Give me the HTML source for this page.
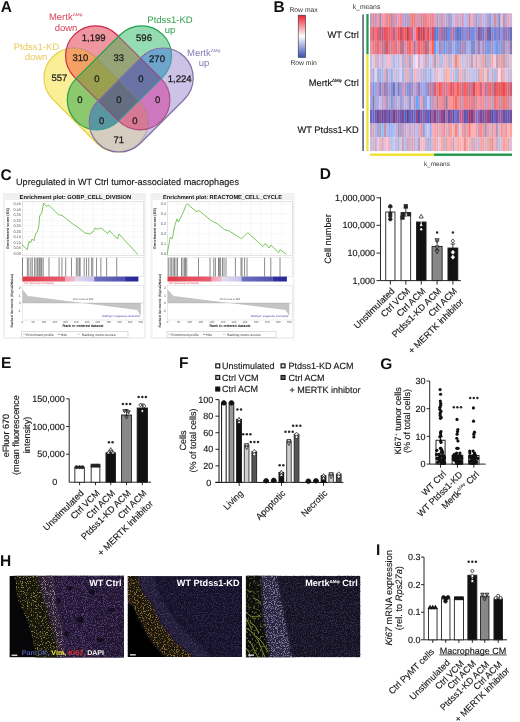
<!DOCTYPE html><html><head><meta charset="utf-8"><style>html,body{margin:0;padding:0;background:#fff;}svg{display:block;}</style></head><body><svg text-rendering="geometricPrecision" width="520" height="722" viewBox="0 0 520 722" font-family='"Liberation Sans", Arial, sans-serif'><rect width="520" height="722" fill="#fff"/><defs><clipPath id="vcY"><rect x="34.89" y="70.00" width="122.23" height="60.00" rx="30" ry="30" transform="rotate(45.00 96.00 100.00)" /></clipPath><mask id="vmY" maskUnits="userSpaceOnUse" x="0" y="0" width="260" height="170"><rect x="0" y="0" width="260" height="170" fill="#fff"/><rect x="34.89" y="70.00" width="122.23" height="60.00" rx="30" ry="30" transform="rotate(45.00 96.00 100.00)" fill="#000"/></mask><clipPath id="vcR"><rect x="56.50" y="47.85" width="122.51" height="60.00" rx="30" ry="30" transform="rotate(44.87 117.75 77.85)" /></clipPath><mask id="vmR" maskUnits="userSpaceOnUse" x="0" y="0" width="260" height="170"><rect x="0" y="0" width="260" height="170" fill="#fff"/><rect x="56.50" y="47.85" width="122.51" height="60.00" rx="30" ry="30" transform="rotate(44.87 117.75 77.85)" fill="#000"/></mask><clipPath id="vcG"><rect x="58.20" y="47.85" width="122.51" height="60.00" rx="30" ry="30" transform="rotate(135.13 119.45 77.85)" /></clipPath><mask id="vmG" maskUnits="userSpaceOnUse" x="0" y="0" width="260" height="170"><rect x="0" y="0" width="260" height="170" fill="#fff"/><rect x="58.20" y="47.85" width="122.51" height="60.00" rx="30" ry="30" transform="rotate(135.13 119.45 77.85)" fill="#000"/></mask><clipPath id="vcP"><rect x="80.09" y="70.00" width="122.23" height="60.00" rx="30" ry="30" transform="rotate(135.00 141.20 100.00)" /></clipPath><mask id="vmP" maskUnits="userSpaceOnUse" x="0" y="0" width="260" height="170"><rect x="0" y="0" width="260" height="170" fill="#fff"/><rect x="80.09" y="70.00" width="122.23" height="60.00" rx="30" ry="30" transform="rotate(135.00 141.20 100.00)" fill="#000"/></mask></defs>
<g mask="url(#vmP)"><g mask="url(#vmG)"><g mask="url(#vmR)"><g clip-path="url(#vcY)"><rect x="0" y="0" width="260" height="170" fill="#faee96"/></g></g></g></g>
<g mask="url(#vmP)"><g mask="url(#vmG)"><g mask="url(#vmY)"><g clip-path="url(#vcR)"><rect x="0" y="0" width="260" height="170" fill="#f096a0"/></g></g></g></g>
<g mask="url(#vmP)"><g mask="url(#vmR)"><g mask="url(#vmY)"><g clip-path="url(#vcG)"><rect x="0" y="0" width="260" height="170" fill="#96dcb2"/></g></g></g></g>
<g mask="url(#vmG)"><g mask="url(#vmR)"><g mask="url(#vmY)"><g clip-path="url(#vcP)"><rect x="0" y="0" width="260" height="170" fill="#cdc3e6"/></g></g></g></g>
<g mask="url(#vmP)"><g mask="url(#vmG)"><g clip-path="url(#vcR)"><g clip-path="url(#vcY)"><rect x="0" y="0" width="260" height="170" fill="#f5a064"/></g></g></g></g>
<g mask="url(#vmP)"><g mask="url(#vmY)"><g clip-path="url(#vcG)"><g clip-path="url(#vcR)"><rect x="0" y="0" width="260" height="170" fill="#96a578"/></g></g></g></g>
<g mask="url(#vmR)"><g mask="url(#vmY)"><g clip-path="url(#vcP)"><g clip-path="url(#vcG)"><rect x="0" y="0" width="260" height="170" fill="#6ea5cd"/></g></g></g></g>
<g mask="url(#vmP)"><g mask="url(#vmR)"><g clip-path="url(#vcG)"><g clip-path="url(#vcY)"><rect x="0" y="0" width="260" height="170" fill="#8cc86e"/></g></g></g></g>
<g mask="url(#vmG)"><g mask="url(#vmY)"><g clip-path="url(#vcP)"><g clip-path="url(#vcR)"><rect x="0" y="0" width="260" height="170" fill="#cd78be"/></g></g></g></g>
<g mask="url(#vmP)"><g clip-path="url(#vcG)"><g clip-path="url(#vcR)"><g clip-path="url(#vcY)"><rect x="0" y="0" width="260" height="170" fill="#9ba050"/></g></g></g></g>
<g mask="url(#vmY)"><g clip-path="url(#vcP)"><g clip-path="url(#vcG)"><g clip-path="url(#vcR)"><rect x="0" y="0" width="260" height="170" fill="#6973a5"/></g></g></g></g>
<g clip-path="url(#vcP)"><g clip-path="url(#vcG)"><g clip-path="url(#vcR)"><g clip-path="url(#vcY)"><rect x="0" y="0" width="260" height="170" fill="#646e82"/></g></g></g></g>
<g mask="url(#vmR)"><g clip-path="url(#vcP)"><g clip-path="url(#vcG)"><g clip-path="url(#vcY)"><rect x="0" y="0" width="260" height="170" fill="#5a96a0"/></g></g></g></g>
<g mask="url(#vmG)"><g clip-path="url(#vcP)"><g clip-path="url(#vcR)"><g clip-path="url(#vcY)"><rect x="0" y="0" width="260" height="170" fill="#d77896"/></g></g></g></g>
<g mask="url(#vmG)"><g mask="url(#vmR)"><g clip-path="url(#vcP)"><g clip-path="url(#vcY)"><rect x="0" y="0" width="260" height="170" fill="#d4cdc0"/></g></g></g></g>
<defs><clipPath id="vuY"><rect x="56.50" y="47.85" width="122.51" height="60.00" rx="30" ry="30" transform="rotate(44.87 117.75 77.85)" /><rect x="58.20" y="47.85" width="122.51" height="60.00" rx="30" ry="30" transform="rotate(135.13 119.45 77.85)" /><rect x="80.09" y="70.00" width="122.23" height="60.00" rx="30" ry="30" transform="rotate(135.00 141.20 100.00)" /></clipPath><mask id="vnY" maskUnits="userSpaceOnUse" x="0" y="0" width="260" height="170"><rect x="0" y="0" width="260" height="170" fill="#fff"/><rect x="56.50" y="47.85" width="122.51" height="60.00" rx="30" ry="30" transform="rotate(44.87 117.75 77.85)" fill="#000"/><rect x="58.20" y="47.85" width="122.51" height="60.00" rx="30" ry="30" transform="rotate(135.13 119.45 77.85)" fill="#000"/><rect x="80.09" y="70.00" width="122.23" height="60.00" rx="30" ry="30" transform="rotate(135.00 141.20 100.00)" fill="#000"/></mask></defs>
<g mask="url(#vnY)"><rect x="34.89" y="70.00" width="122.23" height="60.00" rx="30" ry="30" transform="rotate(45.00 96.00 100.00)" fill="none" stroke="#e6d24a" stroke-width="1.2"/></g>
<g clip-path="url(#vuY)"><rect x="34.89" y="70.00" width="122.23" height="60.00" rx="30" ry="30" transform="rotate(45.00 96.00 100.00)" fill="none" stroke="#6a6a50" stroke-width="1.1" stroke-opacity="0.35"/></g>
<defs><clipPath id="vuR"><rect x="58.20" y="47.85" width="122.51" height="60.00" rx="30" ry="30" transform="rotate(135.13 119.45 77.85)" /><rect x="80.09" y="70.00" width="122.23" height="60.00" rx="30" ry="30" transform="rotate(135.00 141.20 100.00)" /></clipPath><mask id="vnR" maskUnits="userSpaceOnUse" x="0" y="0" width="260" height="170"><rect x="0" y="0" width="260" height="170" fill="#fff"/><rect x="58.20" y="47.85" width="122.51" height="60.00" rx="30" ry="30" transform="rotate(135.13 119.45 77.85)" fill="#000"/><rect x="80.09" y="70.00" width="122.23" height="60.00" rx="30" ry="30" transform="rotate(135.00 141.20 100.00)" fill="#000"/></mask></defs>
<g mask="url(#vnR)"><rect x="56.50" y="47.85" width="122.51" height="60.00" rx="30" ry="30" transform="rotate(44.87 117.75 77.85)" fill="none" stroke="#cc2a4c" stroke-width="1.2"/></g>
<g clip-path="url(#vuR)"><rect x="56.50" y="47.85" width="122.51" height="60.00" rx="30" ry="30" transform="rotate(44.87 117.75 77.85)" fill="none" stroke="#a02862" stroke-width="1.1" stroke-opacity="0.75"/></g>
<defs><clipPath id="vuG"><rect x="80.09" y="70.00" width="122.23" height="60.00" rx="30" ry="30" transform="rotate(135.00 141.20 100.00)" /></clipPath><mask id="vnG" maskUnits="userSpaceOnUse" x="0" y="0" width="260" height="170"><rect x="0" y="0" width="260" height="170" fill="#fff"/><rect x="80.09" y="70.00" width="122.23" height="60.00" rx="30" ry="30" transform="rotate(135.00 141.20 100.00)" fill="#000"/></mask></defs>
<g mask="url(#vnG)"><rect x="58.20" y="47.85" width="122.51" height="60.00" rx="30" ry="30" transform="rotate(135.13 119.45 77.85)" fill="none" stroke="#22a04a" stroke-width="1.2"/></g>
<g clip-path="url(#vuG)"><rect x="58.20" y="47.85" width="122.51" height="60.00" rx="30" ry="30" transform="rotate(135.13 119.45 77.85)" fill="none" stroke="#2a9a90" stroke-width="1.1" stroke-opacity="0.85"/></g>
<rect x="80.09" y="70.00" width="122.23" height="60.00" rx="30" ry="30" transform="rotate(135.00 141.20 100.00)" fill="none" stroke="#8070a8" stroke-width="1.2"/>
<text x="93.6" y="40.9" font-size="9.5" text-anchor="middle" fill="#1a1a1a" font-weight="normal" stroke="#1a1a1a" stroke-width="0.25">1,199</text>
<text x="80.4" y="61.0" font-size="9.5" text-anchor="middle" fill="#1a1a1a" font-weight="normal" stroke="#1a1a1a" stroke-width="0.25">310</text>
<text x="118.7" y="61.0" font-size="9.5" text-anchor="middle" fill="#1a1a1a" font-weight="normal" stroke="#1a1a1a" stroke-width="0.25">33</text>
<text x="59.4" y="81.3" font-size="9.5" text-anchor="middle" fill="#1a1a1a" font-weight="normal" stroke="#1a1a1a" stroke-width="0.25">557</text>
<text x="179.6" y="81.5" font-size="9.5" text-anchor="middle" fill="#1a1a1a" font-weight="normal" stroke="#1a1a1a" stroke-width="0.25">1,224</text>
<text x="144" y="40.8" font-size="9.5" text-anchor="middle" fill="#1a1a1a" font-weight="normal" stroke="#1a1a1a" stroke-width="0.25">596</text>
<text x="157" y="62.0" font-size="9.5" text-anchor="middle" fill="#1a1a1a" font-weight="normal" stroke="#1a1a1a" stroke-width="0.25">270</text>
<text x="96.9" y="82.2" font-size="9.5" text-anchor="middle" fill="#1a1a1a" font-weight="normal" stroke="#1a1a1a" stroke-width="0.25">0</text>
<text x="140.8" y="82.2" font-size="9.5" text-anchor="middle" fill="#1a1a1a" font-weight="normal" stroke="#1a1a1a" stroke-width="0.25">0</text>
<text x="80" y="103.1" font-size="9.5" text-anchor="middle" fill="#1a1a1a" font-weight="normal" stroke="#1a1a1a" stroke-width="0.25">0</text>
<text x="119" y="103.1" font-size="9.5" text-anchor="middle" fill="#1a1a1a" font-weight="normal" stroke="#1a1a1a" stroke-width="0.25">0</text>
<text x="157.7" y="103.1" font-size="9.5" text-anchor="middle" fill="#1a1a1a" font-weight="normal" stroke="#1a1a1a" stroke-width="0.25">0</text>
<text x="101.7" y="123.8" font-size="9.5" text-anchor="middle" fill="#1a1a1a" font-weight="normal" stroke="#1a1a1a" stroke-width="0.25">0</text>
<text x="134.8" y="123.8" font-size="9.5" text-anchor="middle" fill="#1a1a1a" font-weight="normal" stroke="#1a1a1a" stroke-width="0.25">0</text>
<text x="118.7" y="142.5" font-size="9.5" text-anchor="middle" fill="#1a1a1a" font-weight="normal" stroke="#1a1a1a" stroke-width="0.25">71</text>
<text x="65.6" y="20.2" font-size="9.5" text-anchor="middle" fill="#d8405a">Mertk<tspan font-size="4.5" dy="-4">ΔMφ</tspan></text>
<text x="66" y="30.8" font-size="9.5" text-anchor="middle" fill="#d8405a" font-weight="normal" >down</text>
<text x="36.4" y="50.4" font-size="9.5" text-anchor="middle" fill="#ecc85a" font-weight="normal" >Ptdss1-KD</text>
<text x="36" y="60" font-size="9.5" text-anchor="middle" fill="#ecc85a" font-weight="normal" >down</text>
<text x="170" y="23" font-size="9.5" text-anchor="middle" fill="#30a050" font-weight="normal" >Ptdss1-KD</text>
<text x="170" y="33" font-size="9.5" text-anchor="middle" fill="#30a050" font-weight="normal" >up</text>
<text x="203.7" y="55.5" font-size="9.5" text-anchor="middle" fill="#8878b8">Mertk<tspan font-size="4.5" dy="-4">ΔMφ</tspan></text>
<text x="204" y="66" font-size="9.5" text-anchor="middle" fill="#8878b8" font-weight="normal" >up</text>
<text x="0.8" y="11.8" font-size="15.5" text-anchor="start" fill="#111" font-weight="bold" >A</text>
<rect x="370.00" y="13.30" width="2.34" height="13.82" fill="#bf9dc7"/>
<rect x="372.29" y="13.30" width="2.34" height="13.82" fill="#ed838f"/>
<rect x="374.57" y="13.30" width="2.34" height="13.82" fill="#b799c4"/>
<rect x="376.86" y="13.30" width="2.34" height="13.82" fill="#f39aad"/>
<rect x="379.14" y="13.30" width="2.34" height="13.82" fill="#ab89b3"/>
<rect x="381.43" y="13.30" width="2.34" height="13.82" fill="#f191a1"/>
<rect x="383.71" y="13.30" width="2.34" height="13.82" fill="#ff9296"/>
<rect x="386.00" y="13.30" width="2.34" height="13.82" fill="#d48ea8"/>
<rect x="388.29" y="13.30" width="2.34" height="13.82" fill="#ff7b71"/>
<rect x="390.57" y="13.30" width="2.34" height="13.82" fill="#b888ac"/>
<rect x="392.86" y="13.30" width="2.34" height="13.82" fill="#de92a9"/>
<rect x="395.14" y="13.30" width="2.34" height="13.82" fill="#d092b0"/>
<rect x="397.43" y="13.30" width="2.34" height="13.82" fill="#e997ac"/>
<rect x="399.71" y="13.30" width="2.34" height="13.82" fill="#f88b95"/>
<rect x="402.00" y="13.30" width="2.34" height="13.82" fill="#b5a5d7"/>
<rect x="404.29" y="13.30" width="2.34" height="13.82" fill="#b498c5"/>
<rect x="406.57" y="13.30" width="2.34" height="13.82" fill="#b49bc8"/>
<rect x="408.86" y="13.30" width="2.34" height="13.82" fill="#c898bc"/>
<rect x="411.14" y="13.30" width="2.34" height="13.82" fill="#ff7965"/>
<rect x="413.43" y="13.30" width="2.34" height="13.82" fill="#df7b88"/>
<rect x="415.71" y="13.30" width="2.34" height="13.82" fill="#da9ab7"/>
<rect x="418.00" y="13.30" width="2.34" height="13.82" fill="#dc96b0"/>
<rect x="420.29" y="13.30" width="2.34" height="13.82" fill="#d0849b"/>
<rect x="422.57" y="13.30" width="2.34" height="13.82" fill="#de8394"/>
<rect x="424.86" y="13.30" width="2.34" height="13.82" fill="#ff7e7d"/>
<rect x="427.14" y="13.30" width="2.34" height="13.82" fill="#eb8c9b"/>
<rect x="429.43" y="13.30" width="2.34" height="13.82" fill="#ea838f"/>
<rect x="431.71" y="13.30" width="2.34" height="13.82" fill="#f18893"/>
<rect x="434.00" y="13.30" width="2.34" height="13.82" fill="#d9a3c1"/>
<rect x="436.29" y="13.30" width="2.34" height="13.82" fill="#ac9ac7"/>
<rect x="438.59" y="13.30" width="2.34" height="13.82" fill="#cba5c9"/>
<rect x="440.88" y="13.30" width="2.34" height="13.82" fill="#d795ad"/>
<rect x="443.18" y="13.30" width="2.34" height="13.82" fill="#c6a7ce"/>
<rect x="445.47" y="13.30" width="2.34" height="13.82" fill="#bba5d0"/>
<rect x="447.76" y="13.30" width="2.34" height="13.82" fill="#af9cc9"/>
<rect x="450.06" y="13.30" width="2.34" height="13.82" fill="#93a7e4"/>
<rect x="452.35" y="13.30" width="2.34" height="13.82" fill="#d3b3d9"/>
<rect x="454.65" y="13.30" width="2.34" height="13.82" fill="#d7aacc"/>
<rect x="456.94" y="13.30" width="2.34" height="13.82" fill="#cea8cc"/>
<rect x="459.24" y="13.30" width="2.34" height="13.82" fill="#bfacd9"/>
<rect x="461.53" y="13.30" width="2.34" height="13.82" fill="#da94ab"/>
<rect x="463.82" y="13.30" width="2.34" height="13.82" fill="#b7c1f9"/>
<rect x="466.12" y="13.30" width="2.34" height="13.82" fill="#c3aeda"/>
<rect x="468.41" y="13.30" width="2.34" height="13.82" fill="#ba91b4"/>
<rect x="470.71" y="13.30" width="2.34" height="13.82" fill="#ffa9b6"/>
<rect x="473.00" y="13.30" width="2.34" height="13.82" fill="#bfacd9"/>
<rect x="475.29" y="13.30" width="2.34" height="13.82" fill="#aa99c6"/>
<rect x="477.59" y="13.30" width="2.34" height="13.82" fill="#b3aada"/>
<rect x="479.88" y="13.30" width="2.34" height="13.82" fill="#d6a5c5"/>
<rect x="482.18" y="13.30" width="2.34" height="13.82" fill="#c3b4e3"/>
<rect x="484.47" y="13.30" width="2.34" height="13.82" fill="#a8b3ed"/>
<rect x="486.76" y="13.30" width="2.34" height="13.82" fill="#ca99b9"/>
<rect x="489.06" y="13.30" width="2.34" height="13.82" fill="#79a6ee"/>
<rect x="491.35" y="13.30" width="2.34" height="13.82" fill="#bea9d5"/>
<rect x="493.65" y="13.30" width="2.34" height="13.82" fill="#cd8ea7"/>
<rect x="495.94" y="13.30" width="2.34" height="13.82" fill="#b9acdb"/>
<rect x="498.24" y="13.30" width="2.34" height="13.82" fill="#9189ba"/>
<rect x="500.53" y="13.30" width="2.34" height="13.82" fill="#e2bbdf"/>
<rect x="502.82" y="13.30" width="2.34" height="13.82" fill="#c093b4"/>
<rect x="505.12" y="13.30" width="2.34" height="13.82" fill="#aaaadf"/>
<rect x="507.41" y="13.30" width="2.34" height="13.82" fill="#f89ba7"/>
<rect x="509.71" y="13.30" width="2.34" height="13.82" fill="#c7b6e4"/>
<rect x="370.00" y="27.07" width="2.34" height="13.82" fill="#f27288"/>
<rect x="372.29" y="27.07" width="2.34" height="13.82" fill="#c65b78"/>
<rect x="374.57" y="27.07" width="2.34" height="13.82" fill="#ff6872"/>
<rect x="376.86" y="27.07" width="2.34" height="13.82" fill="#f25b66"/>
<rect x="379.14" y="27.07" width="2.34" height="13.82" fill="#a7608d"/>
<rect x="381.43" y="27.07" width="2.34" height="13.82" fill="#c85976"/>
<rect x="383.71" y="27.07" width="2.34" height="13.82" fill="#e8535f"/>
<rect x="386.00" y="27.07" width="2.34" height="13.82" fill="#f25760"/>
<rect x="388.29" y="27.07" width="2.34" height="13.82" fill="#d65f78"/>
<rect x="390.57" y="27.07" width="2.34" height="13.82" fill="#f36371"/>
<rect x="392.86" y="27.07" width="2.34" height="13.82" fill="#cf5c77"/>
<rect x="395.14" y="27.07" width="2.34" height="13.82" fill="#ce789f"/>
<rect x="397.43" y="27.07" width="2.34" height="13.82" fill="#ff4f4f"/>
<rect x="399.71" y="27.07" width="2.34" height="13.82" fill="#c3506b"/>
<rect x="402.00" y="27.07" width="2.34" height="13.82" fill="#e45d6e"/>
<rect x="404.29" y="27.07" width="2.34" height="13.82" fill="#ff4f45"/>
<rect x="406.57" y="27.07" width="2.34" height="13.82" fill="#ac4462"/>
<rect x="408.86" y="27.07" width="2.34" height="13.82" fill="#ff5455"/>
<rect x="411.14" y="27.07" width="2.34" height="13.82" fill="#b76993"/>
<rect x="413.43" y="27.07" width="2.34" height="13.82" fill="#df90bb"/>
<rect x="415.71" y="27.07" width="2.34" height="13.82" fill="#ff5b5f"/>
<rect x="418.00" y="27.07" width="2.34" height="13.82" fill="#bf4359"/>
<rect x="420.29" y="27.07" width="2.34" height="13.82" fill="#c84a5f"/>
<rect x="422.57" y="27.07" width="2.34" height="13.82" fill="#d33e49"/>
<rect x="424.86" y="27.07" width="2.34" height="13.82" fill="#d57091"/>
<rect x="427.14" y="27.07" width="2.34" height="13.82" fill="#f9423f"/>
<rect x="429.43" y="27.07" width="2.34" height="13.82" fill="#c1719a"/>
<rect x="431.71" y="27.07" width="2.34" height="13.82" fill="#e74a52"/>
<rect x="434.00" y="27.07" width="2.34" height="13.82" fill="#6a76ca"/>
<rect x="436.29" y="27.07" width="2.34" height="13.82" fill="#5d7ad4"/>
<rect x="438.59" y="27.07" width="2.34" height="13.82" fill="#ab79b2"/>
<rect x="440.88" y="27.07" width="2.34" height="13.82" fill="#b66a98"/>
<rect x="443.18" y="27.07" width="2.34" height="13.82" fill="#746fbb"/>
<rect x="445.47" y="27.07" width="2.34" height="13.82" fill="#716bb6"/>
<rect x="447.76" y="27.07" width="2.34" height="13.82" fill="#5f8ef1"/>
<rect x="450.06" y="27.07" width="2.34" height="13.82" fill="#b27ab0"/>
<rect x="452.35" y="27.07" width="2.34" height="13.82" fill="#a873ab"/>
<rect x="454.65" y="27.07" width="2.34" height="13.82" fill="#727fd3"/>
<rect x="456.94" y="27.07" width="2.34" height="13.82" fill="#6d6fbe"/>
<rect x="459.24" y="27.07" width="2.34" height="13.82" fill="#4773d5"/>
<rect x="461.53" y="27.07" width="2.34" height="13.82" fill="#857bc5"/>
<rect x="463.82" y="27.07" width="2.34" height="13.82" fill="#898ede"/>
<rect x="466.12" y="27.07" width="2.34" height="13.82" fill="#8f7fc7"/>
<rect x="468.41" y="27.07" width="2.34" height="13.82" fill="#9867a0"/>
<rect x="470.71" y="27.07" width="2.34" height="13.82" fill="#5b90f5"/>
<rect x="473.00" y="27.07" width="2.34" height="13.82" fill="#828ee1"/>
<rect x="475.29" y="27.07" width="2.34" height="13.82" fill="#9883c9"/>
<rect x="477.59" y="27.07" width="2.34" height="13.82" fill="#7e5b9b"/>
<rect x="479.88" y="27.07" width="2.34" height="13.82" fill="#8e6cad"/>
<rect x="482.18" y="27.07" width="2.34" height="13.82" fill="#6b79ce"/>
<rect x="484.47" y="27.07" width="2.34" height="13.82" fill="#a27fbe"/>
<rect x="486.76" y="27.07" width="2.34" height="13.82" fill="#895f9b"/>
<rect x="489.06" y="27.07" width="2.34" height="13.82" fill="#5861b3"/>
<rect x="491.35" y="27.07" width="2.34" height="13.82" fill="#8881cd"/>
<rect x="493.65" y="27.07" width="2.34" height="13.82" fill="#7382d6"/>
<rect x="495.94" y="27.07" width="2.34" height="13.82" fill="#9584cb"/>
<rect x="498.24" y="27.07" width="2.34" height="13.82" fill="#6575cb"/>
<rect x="500.53" y="27.07" width="2.34" height="13.82" fill="#8594e8"/>
<rect x="502.82" y="27.07" width="2.34" height="13.82" fill="#9e70ab"/>
<rect x="505.12" y="27.07" width="2.34" height="13.82" fill="#8b79c0"/>
<rect x="507.41" y="27.07" width="2.34" height="13.82" fill="#8676bd"/>
<rect x="509.71" y="27.07" width="2.34" height="13.82" fill="#6c6dbb"/>
<rect x="370.00" y="40.84" width="2.34" height="13.82" fill="#e790a9"/>
<rect x="372.29" y="40.84" width="2.34" height="13.82" fill="#f2757d"/>
<rect x="374.57" y="40.84" width="2.34" height="13.82" fill="#df7a8d"/>
<rect x="376.86" y="40.84" width="2.34" height="13.82" fill="#e56d78"/>
<rect x="379.14" y="40.84" width="2.34" height="13.82" fill="#eb7986"/>
<rect x="381.43" y="40.84" width="2.34" height="13.82" fill="#c7738e"/>
<rect x="383.71" y="40.84" width="2.34" height="13.82" fill="#bd728f"/>
<rect x="386.00" y="40.84" width="2.34" height="13.82" fill="#de5559"/>
<rect x="388.29" y="40.84" width="2.34" height="13.82" fill="#d57286"/>
<rect x="390.57" y="40.84" width="2.34" height="13.82" fill="#d57d96"/>
<rect x="392.86" y="40.84" width="2.34" height="13.82" fill="#ff7171"/>
<rect x="395.14" y="40.84" width="2.34" height="13.82" fill="#d97183"/>
<rect x="397.43" y="40.84" width="2.34" height="13.82" fill="#eb8395"/>
<rect x="399.71" y="40.84" width="2.34" height="13.82" fill="#cc6c82"/>
<rect x="402.00" y="40.84" width="2.34" height="13.82" fill="#b67394"/>
<rect x="404.29" y="40.84" width="2.34" height="13.82" fill="#ce8eb1"/>
<rect x="406.57" y="40.84" width="2.34" height="13.82" fill="#ea727d"/>
<rect x="408.86" y="40.84" width="2.34" height="13.82" fill="#ff6661"/>
<rect x="411.14" y="40.84" width="2.34" height="13.82" fill="#ff7c82"/>
<rect x="413.43" y="40.84" width="2.34" height="13.82" fill="#aa6f95"/>
<rect x="415.71" y="40.84" width="2.34" height="13.82" fill="#d789a6"/>
<rect x="418.00" y="40.84" width="2.34" height="13.82" fill="#f6605e"/>
<rect x="420.29" y="40.84" width="2.34" height="13.82" fill="#f96c6d"/>
<rect x="422.57" y="40.84" width="2.34" height="13.82" fill="#d37489"/>
<rect x="424.86" y="40.84" width="2.34" height="13.82" fill="#c56478"/>
<rect x="427.14" y="40.84" width="2.34" height="13.82" fill="#bb708d"/>
<rect x="429.43" y="40.84" width="2.34" height="13.82" fill="#ff8d96"/>
<rect x="431.71" y="40.84" width="2.34" height="13.82" fill="#ff614b"/>
<rect x="434.00" y="40.84" width="2.34" height="13.82" fill="#659cf2"/>
<rect x="436.29" y="40.84" width="2.34" height="13.82" fill="#96b4ff"/>
<rect x="438.59" y="40.84" width="2.34" height="13.82" fill="#9b89bf"/>
<rect x="440.88" y="40.84" width="2.34" height="13.82" fill="#b495c7"/>
<rect x="443.18" y="40.84" width="2.34" height="13.82" fill="#669aef"/>
<rect x="445.47" y="40.84" width="2.34" height="13.82" fill="#9097d9"/>
<rect x="447.76" y="40.84" width="2.34" height="13.82" fill="#9591cd"/>
<rect x="450.06" y="40.84" width="2.34" height="13.82" fill="#938dc9"/>
<rect x="452.35" y="40.84" width="2.34" height="13.82" fill="#91aef8"/>
<rect x="454.65" y="40.84" width="2.34" height="13.82" fill="#a498d1"/>
<rect x="456.94" y="40.84" width="2.34" height="13.82" fill="#6b9ff3"/>
<rect x="459.24" y="40.84" width="2.34" height="13.82" fill="#9b80b3"/>
<rect x="461.53" y="40.84" width="2.34" height="13.82" fill="#ad89b8"/>
<rect x="463.82" y="40.84" width="2.34" height="13.82" fill="#9e91ca"/>
<rect x="466.12" y="40.84" width="2.34" height="13.82" fill="#a9a2dd"/>
<rect x="468.41" y="40.84" width="2.34" height="13.82" fill="#9eabef"/>
<rect x="470.71" y="40.84" width="2.34" height="13.82" fill="#7790d9"/>
<rect x="473.00" y="40.84" width="2.34" height="13.82" fill="#9b84b8"/>
<rect x="475.29" y="40.84" width="2.34" height="13.82" fill="#97a3e6"/>
<rect x="477.59" y="40.84" width="2.34" height="13.82" fill="#9f78a5"/>
<rect x="479.88" y="40.84" width="2.34" height="13.82" fill="#b9a9e0"/>
<rect x="482.18" y="40.84" width="2.34" height="13.82" fill="#b18ab8"/>
<rect x="484.47" y="40.84" width="2.34" height="13.82" fill="#8396dc"/>
<rect x="486.76" y="40.84" width="2.34" height="13.82" fill="#759ae8"/>
<rect x="489.06" y="40.84" width="2.34" height="13.82" fill="#8f95d6"/>
<rect x="491.35" y="40.84" width="2.34" height="13.82" fill="#b18bb8"/>
<rect x="493.65" y="40.84" width="2.34" height="13.82" fill="#7dacfe"/>
<rect x="495.94" y="40.84" width="2.34" height="13.82" fill="#7598e4"/>
<rect x="498.24" y="40.84" width="2.34" height="13.82" fill="#8e92d2"/>
<rect x="500.53" y="40.84" width="2.34" height="13.82" fill="#7999e5"/>
<rect x="502.82" y="40.84" width="2.34" height="13.82" fill="#c57f9f"/>
<rect x="505.12" y="40.84" width="2.34" height="13.82" fill="#a0a4e4"/>
<rect x="507.41" y="40.84" width="2.34" height="13.82" fill="#b19acd"/>
<rect x="509.71" y="40.84" width="2.34" height="13.82" fill="#9478aa"/>
<rect x="370.00" y="54.61" width="2.34" height="13.82" fill="#b8bdea"/>
<rect x="372.29" y="54.61" width="2.34" height="13.82" fill="#e9c2dc"/>
<rect x="374.57" y="54.61" width="2.34" height="13.82" fill="#d6afca"/>
<rect x="376.86" y="54.61" width="2.34" height="13.82" fill="#cbb3d3"/>
<rect x="379.14" y="54.61" width="2.34" height="13.82" fill="#dbbcd9"/>
<rect x="381.43" y="54.61" width="2.34" height="13.82" fill="#baaed4"/>
<rect x="383.71" y="54.61" width="2.34" height="13.82" fill="#c4c9f5"/>
<rect x="386.00" y="54.61" width="2.34" height="13.82" fill="#f9b9c8"/>
<rect x="388.29" y="54.61" width="2.34" height="13.82" fill="#ecbacf"/>
<rect x="390.57" y="54.61" width="2.34" height="13.82" fill="#d4bddf"/>
<rect x="392.86" y="54.61" width="2.34" height="13.82" fill="#afbaea"/>
<rect x="395.14" y="54.61" width="2.34" height="13.82" fill="#c3c3ee"/>
<rect x="397.43" y="54.61" width="2.34" height="13.82" fill="#bdb8e1"/>
<rect x="399.71" y="54.61" width="2.34" height="13.82" fill="#e7c3de"/>
<rect x="402.00" y="54.61" width="2.34" height="13.82" fill="#adb0dc"/>
<rect x="404.29" y="54.61" width="2.34" height="13.82" fill="#d4a3b8"/>
<rect x="406.57" y="54.61" width="2.34" height="13.82" fill="#d1acc6"/>
<rect x="408.86" y="54.61" width="2.34" height="13.82" fill="#b4a0c3"/>
<rect x="411.14" y="54.61" width="2.34" height="13.82" fill="#d9abc2"/>
<rect x="413.43" y="54.61" width="2.34" height="13.82" fill="#cfd5ff"/>
<rect x="415.71" y="54.61" width="2.34" height="13.82" fill="#ffdbf2"/>
<rect x="418.00" y="54.61" width="2.34" height="13.82" fill="#d3afca"/>
<rect x="420.29" y="54.61" width="2.34" height="13.82" fill="#e3c8e8"/>
<rect x="422.57" y="54.61" width="2.34" height="13.82" fill="#d1bbdc"/>
<rect x="424.86" y="54.61" width="2.34" height="13.82" fill="#cfa7c1"/>
<rect x="427.14" y="54.61" width="2.34" height="13.82" fill="#caafce"/>
<rect x="429.43" y="54.61" width="2.34" height="13.82" fill="#b7c9fb"/>
<rect x="431.71" y="54.61" width="2.34" height="13.82" fill="#deb2ca"/>
<rect x="434.00" y="54.61" width="2.34" height="13.82" fill="#aca2c2"/>
<rect x="436.29" y="54.61" width="2.34" height="13.82" fill="#e7afbc"/>
<rect x="438.59" y="54.61" width="2.34" height="13.82" fill="#b0beea"/>
<rect x="440.88" y="54.61" width="2.34" height="13.82" fill="#b5bee7"/>
<rect x="443.18" y="54.61" width="2.34" height="13.82" fill="#e3b7c9"/>
<rect x="445.47" y="54.61" width="2.34" height="13.82" fill="#e3b4c5"/>
<rect x="447.76" y="54.61" width="2.34" height="13.82" fill="#bab7da"/>
<rect x="450.06" y="54.61" width="2.34" height="13.82" fill="#ccb4cf"/>
<rect x="452.35" y="54.61" width="2.34" height="13.82" fill="#eab9c9"/>
<rect x="454.65" y="54.61" width="2.34" height="13.82" fill="#e68987"/>
<rect x="456.94" y="54.61" width="2.34" height="13.82" fill="#e3aebd"/>
<rect x="459.24" y="54.61" width="2.34" height="13.82" fill="#ffafa4"/>
<rect x="461.53" y="54.61" width="2.34" height="13.82" fill="#b6c4ef"/>
<rect x="463.82" y="54.61" width="2.34" height="13.82" fill="#dac3de"/>
<rect x="466.12" y="54.61" width="2.34" height="13.82" fill="#c0badc"/>
<rect x="468.41" y="54.61" width="2.34" height="13.82" fill="#d7b3c9"/>
<rect x="470.71" y="54.61" width="2.34" height="13.82" fill="#b7a1be"/>
<rect x="473.00" y="54.61" width="2.34" height="13.82" fill="#f3bcca"/>
<rect x="475.29" y="54.61" width="2.34" height="13.82" fill="#cea8bd"/>
<rect x="477.59" y="54.61" width="2.34" height="13.82" fill="#e7b9ca"/>
<rect x="479.88" y="54.61" width="2.34" height="13.82" fill="#d7b5cb"/>
<rect x="482.18" y="54.61" width="2.34" height="13.82" fill="#f29c9d"/>
<rect x="484.47" y="54.61" width="2.34" height="13.82" fill="#b7a0bc"/>
<rect x="486.76" y="54.61" width="2.34" height="13.82" fill="#c1afcd"/>
<rect x="489.06" y="54.61" width="2.34" height="13.82" fill="#bbb2d3"/>
<rect x="491.35" y="54.61" width="2.34" height="13.82" fill="#ffa5a0"/>
<rect x="493.65" y="54.61" width="2.34" height="13.82" fill="#f3cfe4"/>
<rect x="495.94" y="54.61" width="2.34" height="13.82" fill="#c59fb4"/>
<rect x="498.24" y="54.61" width="2.34" height="13.82" fill="#daa5b4"/>
<rect x="500.53" y="54.61" width="2.34" height="13.82" fill="#f69997"/>
<rect x="502.82" y="54.61" width="2.34" height="13.82" fill="#baa4c0"/>
<rect x="505.12" y="54.61" width="2.34" height="13.82" fill="#d2a7b9"/>
<rect x="507.41" y="54.61" width="2.34" height="13.82" fill="#d5afc4"/>
<rect x="509.71" y="54.61" width="2.34" height="13.82" fill="#d7c3e0"/>
<rect x="370.00" y="68.38" width="2.34" height="13.82" fill="#d8b0c9"/>
<rect x="372.29" y="68.38" width="2.34" height="13.82" fill="#9cafe1"/>
<rect x="374.57" y="68.38" width="2.34" height="13.82" fill="#e3d0f3"/>
<rect x="376.86" y="68.38" width="2.34" height="13.82" fill="#abafdc"/>
<rect x="379.14" y="68.38" width="2.34" height="13.82" fill="#a1addd"/>
<rect x="381.43" y="68.38" width="2.34" height="13.82" fill="#a4baed"/>
<rect x="383.71" y="68.38" width="2.34" height="13.82" fill="#e4acbe"/>
<rect x="386.00" y="68.38" width="2.34" height="13.82" fill="#9fa6d3"/>
<rect x="388.29" y="68.38" width="2.34" height="13.82" fill="#c5b4d7"/>
<rect x="390.57" y="68.38" width="2.34" height="13.82" fill="#93b1e8"/>
<rect x="392.86" y="68.38" width="2.34" height="13.82" fill="#cbc2e9"/>
<rect x="395.14" y="68.38" width="2.34" height="13.82" fill="#d2b4d1"/>
<rect x="397.43" y="68.38" width="2.34" height="13.82" fill="#bbbce6"/>
<rect x="399.71" y="68.38" width="2.34" height="13.82" fill="#d9d0f6"/>
<rect x="402.00" y="68.38" width="2.34" height="13.82" fill="#9eb9ef"/>
<rect x="404.29" y="68.38" width="2.34" height="13.82" fill="#dcaabe"/>
<rect x="406.57" y="68.38" width="2.34" height="13.82" fill="#e3abbd"/>
<rect x="408.86" y="68.38" width="2.34" height="13.82" fill="#bfb0d4"/>
<rect x="411.14" y="68.38" width="2.34" height="13.82" fill="#91b3ec"/>
<rect x="413.43" y="68.38" width="2.34" height="13.82" fill="#ffaeb5"/>
<rect x="415.71" y="68.38" width="2.34" height="13.82" fill="#dabdda"/>
<rect x="418.00" y="68.38" width="2.34" height="13.82" fill="#dabedc"/>
<rect x="420.29" y="68.38" width="2.34" height="13.82" fill="#b6b5de"/>
<rect x="422.57" y="68.38" width="2.34" height="13.82" fill="#d4aac3"/>
<rect x="424.86" y="68.38" width="2.34" height="13.82" fill="#9bbcf4"/>
<rect x="427.14" y="68.38" width="2.34" height="13.82" fill="#b9c1ee"/>
<rect x="429.43" y="68.38" width="2.34" height="13.82" fill="#a1aede"/>
<rect x="431.71" y="68.38" width="2.34" height="13.82" fill="#cacaf5"/>
<rect x="434.00" y="68.38" width="2.34" height="13.82" fill="#d7bcd4"/>
<rect x="436.29" y="68.38" width="2.34" height="13.82" fill="#dabdd5"/>
<rect x="438.59" y="68.38" width="2.34" height="13.82" fill="#ffc4cf"/>
<rect x="440.88" y="68.38" width="2.34" height="13.82" fill="#bdd5ff"/>
<rect x="443.18" y="68.38" width="2.34" height="13.82" fill="#d3b6ce"/>
<rect x="445.47" y="68.38" width="2.34" height="13.82" fill="#ffa79e"/>
<rect x="447.76" y="68.38" width="2.34" height="13.82" fill="#ffb8b5"/>
<rect x="450.06" y="68.38" width="2.34" height="13.82" fill="#c2c6ed"/>
<rect x="452.35" y="68.38" width="2.34" height="13.82" fill="#e8b3c1"/>
<rect x="454.65" y="68.38" width="2.34" height="13.82" fill="#97c5fe"/>
<rect x="456.94" y="68.38" width="2.34" height="13.82" fill="#c4aec8"/>
<rect x="459.24" y="68.38" width="2.34" height="13.82" fill="#ffaaa9"/>
<rect x="461.53" y="68.38" width="2.34" height="13.82" fill="#c9b9d6"/>
<rect x="463.82" y="68.38" width="2.34" height="13.82" fill="#b9b6d8"/>
<rect x="466.12" y="68.38" width="2.34" height="13.82" fill="#ddbdd3"/>
<rect x="468.41" y="68.38" width="2.34" height="13.82" fill="#c9bcdb"/>
<rect x="470.71" y="68.38" width="2.34" height="13.82" fill="#bac9f5"/>
<rect x="473.00" y="68.38" width="2.34" height="13.82" fill="#c6c1e4"/>
<rect x="475.29" y="68.38" width="2.34" height="13.82" fill="#b9bade"/>
<rect x="477.59" y="68.38" width="2.34" height="13.82" fill="#cda9bf"/>
<rect x="479.88" y="68.38" width="2.34" height="13.82" fill="#ffa89e"/>
<rect x="482.18" y="68.38" width="2.34" height="13.82" fill="#ccb1ca"/>
<rect x="484.47" y="68.38" width="2.34" height="13.82" fill="#ffbfc1"/>
<rect x="486.76" y="68.38" width="2.34" height="13.82" fill="#cea7bb"/>
<rect x="489.06" y="68.38" width="2.34" height="13.82" fill="#d1c4e3"/>
<rect x="491.35" y="68.38" width="2.34" height="13.82" fill="#bbafce"/>
<rect x="493.65" y="68.38" width="2.34" height="13.82" fill="#afb8e1"/>
<rect x="495.94" y="68.38" width="2.34" height="13.82" fill="#cfb2c9"/>
<rect x="498.24" y="68.38" width="2.34" height="13.82" fill="#f8dbf3"/>
<rect x="500.53" y="68.38" width="2.34" height="13.82" fill="#f7a1a0"/>
<rect x="502.82" y="68.38" width="2.34" height="13.82" fill="#e0b8cb"/>
<rect x="505.12" y="68.38" width="2.34" height="13.82" fill="#e0c7e1"/>
<rect x="507.41" y="68.38" width="2.34" height="13.82" fill="#cab8d4"/>
<rect x="509.71" y="68.38" width="2.34" height="13.82" fill="#ccbbd8"/>
<rect x="370.00" y="82.15" width="2.34" height="13.82" fill="#cb92bb"/>
<rect x="372.29" y="82.15" width="2.34" height="13.82" fill="#7a95e3"/>
<rect x="374.57" y="82.15" width="2.34" height="13.82" fill="#97a1e7"/>
<rect x="376.86" y="82.15" width="2.34" height="13.82" fill="#b29bd3"/>
<rect x="379.14" y="82.15" width="2.34" height="13.82" fill="#897bb7"/>
<rect x="381.43" y="82.15" width="2.34" height="13.82" fill="#b091c6"/>
<rect x="383.71" y="82.15" width="2.34" height="13.82" fill="#9f7eb2"/>
<rect x="386.00" y="82.15" width="2.34" height="13.82" fill="#9b89c3"/>
<rect x="388.29" y="82.15" width="2.34" height="13.82" fill="#949adf"/>
<rect x="390.57" y="82.15" width="2.34" height="13.82" fill="#a084ba"/>
<rect x="392.86" y="82.15" width="2.34" height="13.82" fill="#5880d2"/>
<rect x="395.14" y="82.15" width="2.34" height="13.82" fill="#a0a3e6"/>
<rect x="397.43" y="82.15" width="2.34" height="13.82" fill="#8577b3"/>
<rect x="399.71" y="82.15" width="2.34" height="13.82" fill="#919de3"/>
<rect x="402.00" y="82.15" width="2.34" height="13.82" fill="#da94b8"/>
<rect x="404.29" y="82.15" width="2.34" height="13.82" fill="#ad91c7"/>
<rect x="406.57" y="82.15" width="2.34" height="13.82" fill="#8193dd"/>
<rect x="408.86" y="82.15" width="2.34" height="13.82" fill="#908bca"/>
<rect x="411.14" y="82.15" width="2.34" height="13.82" fill="#9e8cc6"/>
<rect x="413.43" y="82.15" width="2.34" height="13.82" fill="#bba0d7"/>
<rect x="415.71" y="82.15" width="2.34" height="13.82" fill="#b991c2"/>
<rect x="418.00" y="82.15" width="2.34" height="13.82" fill="#8981bf"/>
<rect x="420.29" y="82.15" width="2.34" height="13.82" fill="#a599d5"/>
<rect x="422.57" y="82.15" width="2.34" height="13.82" fill="#97a8f0"/>
<rect x="424.86" y="82.15" width="2.34" height="13.82" fill="#9e98d8"/>
<rect x="427.14" y="82.15" width="2.34" height="13.82" fill="#8a85c4"/>
<rect x="429.43" y="82.15" width="2.34" height="13.82" fill="#c87594"/>
<rect x="431.71" y="82.15" width="2.34" height="13.82" fill="#b284b3"/>
<rect x="434.00" y="82.15" width="2.34" height="13.82" fill="#de5e6a"/>
<rect x="436.29" y="82.15" width="2.34" height="13.82" fill="#e1778d"/>
<rect x="438.59" y="82.15" width="2.34" height="13.82" fill="#ff5247"/>
<rect x="440.88" y="82.15" width="2.34" height="13.82" fill="#ec7585"/>
<rect x="443.18" y="82.15" width="2.34" height="13.82" fill="#d9768f"/>
<rect x="445.47" y="82.15" width="2.34" height="13.82" fill="#d47691"/>
<rect x="447.76" y="82.15" width="2.34" height="13.82" fill="#fa757f"/>
<rect x="450.06" y="82.15" width="2.34" height="13.82" fill="#db5964"/>
<rect x="452.35" y="82.15" width="2.34" height="13.82" fill="#e4585f"/>
<rect x="454.65" y="82.15" width="2.34" height="13.82" fill="#ff767c"/>
<rect x="456.94" y="82.15" width="2.34" height="13.82" fill="#e95f67"/>
<rect x="459.24" y="82.15" width="2.34" height="13.82" fill="#ff6363"/>
<rect x="461.53" y="82.15" width="2.34" height="13.82" fill="#bd6e8f"/>
<rect x="463.82" y="82.15" width="2.34" height="13.82" fill="#ff5c58"/>
<rect x="466.12" y="82.15" width="2.34" height="13.82" fill="#df6573"/>
<rect x="468.41" y="82.15" width="2.34" height="13.82" fill="#b06f96"/>
<rect x="470.71" y="82.15" width="2.34" height="13.82" fill="#ec6a75"/>
<rect x="473.00" y="82.15" width="2.34" height="13.82" fill="#c25163"/>
<rect x="475.29" y="82.15" width="2.34" height="13.82" fill="#ff6a69"/>
<rect x="477.59" y="82.15" width="2.34" height="13.82" fill="#ff7274"/>
<rect x="479.88" y="82.15" width="2.34" height="13.82" fill="#ce657b"/>
<rect x="482.18" y="82.15" width="2.34" height="13.82" fill="#fd7b87"/>
<rect x="484.47" y="82.15" width="2.34" height="13.82" fill="#b3729a"/>
<rect x="486.76" y="82.15" width="2.34" height="13.82" fill="#d5758f"/>
<rect x="489.06" y="82.15" width="2.34" height="13.82" fill="#ff5c58"/>
<rect x="491.35" y="82.15" width="2.34" height="13.82" fill="#c27394"/>
<rect x="493.65" y="82.15" width="2.34" height="13.82" fill="#c7596d"/>
<rect x="495.94" y="82.15" width="2.34" height="13.82" fill="#f15d61"/>
<rect x="498.24" y="82.15" width="2.34" height="13.82" fill="#e2555c"/>
<rect x="500.53" y="82.15" width="2.34" height="13.82" fill="#eb5152"/>
<rect x="502.82" y="82.15" width="2.34" height="13.82" fill="#e54c4e"/>
<rect x="505.12" y="82.15" width="2.34" height="13.82" fill="#ff5b58"/>
<rect x="507.41" y="82.15" width="2.34" height="13.82" fill="#b67197"/>
<rect x="509.71" y="82.15" width="2.34" height="13.82" fill="#dd5b67"/>
<rect x="370.00" y="95.92" width="2.34" height="13.82" fill="#9ea6e1"/>
<rect x="372.29" y="95.92" width="2.34" height="13.82" fill="#7e7cb2"/>
<rect x="374.57" y="95.92" width="2.34" height="13.82" fill="#a2a8e2"/>
<rect x="376.86" y="95.92" width="2.34" height="13.82" fill="#bbaad9"/>
<rect x="379.14" y="95.92" width="2.34" height="13.82" fill="#b5c3ff"/>
<rect x="381.43" y="95.92" width="2.34" height="13.82" fill="#bf9ec7"/>
<rect x="383.71" y="95.92" width="2.34" height="13.82" fill="#cea3c8"/>
<rect x="386.00" y="95.92" width="2.34" height="13.82" fill="#a397ca"/>
<rect x="388.29" y="95.92" width="2.34" height="13.82" fill="#c69ec3"/>
<rect x="390.57" y="95.92" width="2.34" height="13.82" fill="#6a9fed"/>
<rect x="392.86" y="95.92" width="2.34" height="13.82" fill="#b59ecb"/>
<rect x="395.14" y="95.92" width="2.34" height="13.82" fill="#b6a5d5"/>
<rect x="397.43" y="95.92" width="2.34" height="13.82" fill="#beb1e3"/>
<rect x="399.71" y="95.92" width="2.34" height="13.82" fill="#949fdb"/>
<rect x="402.00" y="95.92" width="2.34" height="13.82" fill="#b9a6d6"/>
<rect x="404.29" y="95.92" width="2.34" height="13.82" fill="#cdacd5"/>
<rect x="406.57" y="95.92" width="2.34" height="13.82" fill="#a9b1eb"/>
<rect x="408.86" y="95.92" width="2.34" height="13.82" fill="#a790bd"/>
<rect x="411.14" y="95.92" width="2.34" height="13.82" fill="#bdb9ef"/>
<rect x="413.43" y="95.92" width="2.34" height="13.82" fill="#b694be"/>
<rect x="415.71" y="95.92" width="2.34" height="13.82" fill="#62a7fc"/>
<rect x="418.00" y="95.92" width="2.34" height="13.82" fill="#97a5e3"/>
<rect x="420.29" y="95.92" width="2.34" height="13.82" fill="#eb99ad"/>
<rect x="422.57" y="95.92" width="2.34" height="13.82" fill="#a492c2"/>
<rect x="424.86" y="95.92" width="2.34" height="13.82" fill="#87a5ea"/>
<rect x="427.14" y="95.92" width="2.34" height="13.82" fill="#c0c7ff"/>
<rect x="429.43" y="95.92" width="2.34" height="13.82" fill="#969bd4"/>
<rect x="431.71" y="95.92" width="2.34" height="13.82" fill="#c599bd"/>
<rect x="434.00" y="95.92" width="2.34" height="13.82" fill="#d49fbf"/>
<rect x="436.29" y="95.92" width="2.34" height="13.82" fill="#cc7a8c"/>
<rect x="438.59" y="95.92" width="2.34" height="13.82" fill="#f18b95"/>
<rect x="440.88" y="95.92" width="2.34" height="13.82" fill="#e392a5"/>
<rect x="443.18" y="95.92" width="2.34" height="13.82" fill="#ee777a"/>
<rect x="445.47" y="95.92" width="2.34" height="13.82" fill="#9379a3"/>
<rect x="447.76" y="95.92" width="2.34" height="13.82" fill="#ef97a7"/>
<rect x="450.06" y="95.92" width="2.34" height="13.82" fill="#ff9191"/>
<rect x="452.35" y="95.92" width="2.34" height="13.82" fill="#ff7b6f"/>
<rect x="454.65" y="95.92" width="2.34" height="13.82" fill="#ec6e6d"/>
<rect x="456.94" y="95.92" width="2.34" height="13.82" fill="#fa878c"/>
<rect x="459.24" y="95.92" width="2.34" height="13.82" fill="#dc8392"/>
<rect x="461.53" y="95.92" width="2.34" height="13.82" fill="#c991ae"/>
<rect x="463.82" y="95.92" width="2.34" height="13.82" fill="#ff7a77"/>
<rect x="466.12" y="95.92" width="2.34" height="13.82" fill="#e97c83"/>
<rect x="468.41" y="95.92" width="2.34" height="13.82" fill="#de7a84"/>
<rect x="470.71" y="95.92" width="2.34" height="13.82" fill="#ea828b"/>
<rect x="473.00" y="95.92" width="2.34" height="13.82" fill="#e47e88"/>
<rect x="475.29" y="95.92" width="2.34" height="13.82" fill="#c28caa"/>
<rect x="477.59" y="95.92" width="2.34" height="13.82" fill="#ff9393"/>
<rect x="479.88" y="95.92" width="2.34" height="13.82" fill="#e593a6"/>
<rect x="482.18" y="95.92" width="2.34" height="13.82" fill="#fb878b"/>
<rect x="484.47" y="95.92" width="2.34" height="13.82" fill="#c096ba"/>
<rect x="486.76" y="95.92" width="2.34" height="13.82" fill="#d99cb8"/>
<rect x="489.06" y="95.92" width="2.34" height="13.82" fill="#ff898d"/>
<rect x="491.35" y="95.92" width="2.34" height="13.82" fill="#aba0d1"/>
<rect x="493.65" y="95.92" width="2.34" height="13.82" fill="#e67378"/>
<rect x="495.94" y="95.92" width="2.34" height="13.82" fill="#fd8282"/>
<rect x="498.24" y="95.92" width="2.34" height="13.82" fill="#d68091"/>
<rect x="500.53" y="95.92" width="2.34" height="13.82" fill="#c589a5"/>
<rect x="502.82" y="95.92" width="2.34" height="13.82" fill="#ff7558"/>
<rect x="505.12" y="95.92" width="2.34" height="13.82" fill="#e17e89"/>
<rect x="507.41" y="95.92" width="2.34" height="13.82" fill="#cd859c"/>
<rect x="509.71" y="95.92" width="2.34" height="13.82" fill="#d898b2"/>
<rect x="370.00" y="109.69" width="2.34" height="13.82" fill="#7362b9"/>
<rect x="372.29" y="109.69" width="2.34" height="13.82" fill="#5d69cd"/>
<rect x="374.57" y="109.69" width="2.34" height="13.82" fill="#775eb2"/>
<rect x="376.86" y="109.69" width="2.34" height="13.82" fill="#624ca1"/>
<rect x="379.14" y="109.69" width="2.34" height="13.82" fill="#89488b"/>
<rect x="381.43" y="109.69" width="2.34" height="13.82" fill="#614ca2"/>
<rect x="383.71" y="109.69" width="2.34" height="13.82" fill="#704fa1"/>
<rect x="386.00" y="109.69" width="2.34" height="13.82" fill="#7b58a8"/>
<rect x="388.29" y="109.69" width="2.34" height="13.82" fill="#4d49a7"/>
<rect x="390.57" y="109.69" width="2.34" height="13.82" fill="#855eac"/>
<rect x="392.86" y="109.69" width="2.34" height="13.82" fill="#73438d"/>
<rect x="395.14" y="109.69" width="2.34" height="13.82" fill="#8356a2"/>
<rect x="397.43" y="109.69" width="2.34" height="13.82" fill="#7c59a9"/>
<rect x="399.71" y="109.69" width="2.34" height="13.82" fill="#6a5ab3"/>
<rect x="402.00" y="109.69" width="2.34" height="13.82" fill="#814990"/>
<rect x="404.29" y="109.69" width="2.34" height="13.82" fill="#4a5ec6"/>
<rect x="406.57" y="109.69" width="2.34" height="13.82" fill="#5e3e8f"/>
<rect x="408.86" y="109.69" width="2.34" height="13.82" fill="#6561bf"/>
<rect x="411.14" y="109.69" width="2.34" height="13.82" fill="#6d58ae"/>
<rect x="413.43" y="109.69" width="2.34" height="13.82" fill="#5b69ce"/>
<rect x="415.71" y="109.69" width="2.34" height="13.82" fill="#994783"/>
<rect x="418.00" y="109.69" width="2.34" height="13.82" fill="#4f4dab"/>
<rect x="420.29" y="109.69" width="2.34" height="13.82" fill="#875198"/>
<rect x="422.57" y="109.69" width="2.34" height="13.82" fill="#6a6ac9"/>
<rect x="424.86" y="109.69" width="2.34" height="13.82" fill="#8a57a1"/>
<rect x="427.14" y="109.69" width="2.34" height="13.82" fill="#4260cd"/>
<rect x="429.43" y="109.69" width="2.34" height="13.82" fill="#71428e"/>
<rect x="431.71" y="109.69" width="2.34" height="13.82" fill="#9860a7"/>
<rect x="434.00" y="109.69" width="2.34" height="13.82" fill="#8e4281"/>
<rect x="436.29" y="109.69" width="2.34" height="13.82" fill="#7662b9"/>
<rect x="438.59" y="109.69" width="2.34" height="13.82" fill="#a4599a"/>
<rect x="440.88" y="109.69" width="2.34" height="13.82" fill="#9a4885"/>
<rect x="443.18" y="109.69" width="2.34" height="13.82" fill="#5c3e92"/>
<rect x="445.47" y="109.69" width="2.34" height="13.82" fill="#ac67ab"/>
<rect x="447.76" y="109.69" width="2.34" height="13.82" fill="#6b4fa3"/>
<rect x="450.06" y="109.69" width="2.34" height="13.82" fill="#915297"/>
<rect x="452.35" y="109.69" width="2.34" height="13.82" fill="#5152b3"/>
<rect x="454.65" y="109.69" width="2.34" height="13.82" fill="#7971ce"/>
<rect x="456.94" y="109.69" width="2.34" height="13.82" fill="#7561b9"/>
<rect x="459.24" y="109.69" width="2.34" height="13.82" fill="#c45b8f"/>
<rect x="461.53" y="109.69" width="2.34" height="13.82" fill="#b45b96"/>
<rect x="463.82" y="109.69" width="2.34" height="13.82" fill="#5956b5"/>
<rect x="466.12" y="109.69" width="2.34" height="13.82" fill="#6753ab"/>
<rect x="468.41" y="109.69" width="2.34" height="13.82" fill="#ab2b55"/>
<rect x="470.71" y="109.69" width="2.34" height="13.82" fill="#7c3f85"/>
<rect x="473.00" y="109.69" width="2.34" height="13.82" fill="#ae5893"/>
<rect x="475.29" y="109.69" width="2.34" height="13.82" fill="#886ec3"/>
<rect x="477.59" y="109.69" width="2.34" height="13.82" fill="#8e61ae"/>
<rect x="479.88" y="109.69" width="2.34" height="13.82" fill="#7e4992"/>
<rect x="482.18" y="109.69" width="2.34" height="13.82" fill="#7153a6"/>
<rect x="484.47" y="109.69" width="2.34" height="13.82" fill="#8e4f94"/>
<rect x="486.76" y="109.69" width="2.34" height="13.82" fill="#b63f6c"/>
<rect x="489.06" y="109.69" width="2.34" height="13.82" fill="#684ca1"/>
<rect x="491.35" y="109.69" width="2.34" height="13.82" fill="#58469e"/>
<rect x="493.65" y="109.69" width="2.34" height="13.82" fill="#6e63bf"/>
<rect x="495.94" y="109.69" width="2.34" height="13.82" fill="#7c4f9c"/>
<rect x="498.24" y="109.69" width="2.34" height="13.82" fill="#925ca5"/>
<rect x="500.53" y="109.69" width="2.34" height="13.82" fill="#95579c"/>
<rect x="502.82" y="109.69" width="2.34" height="13.82" fill="#6b52a8"/>
<rect x="505.12" y="109.69" width="2.34" height="13.82" fill="#6856ae"/>
<rect x="507.41" y="109.69" width="2.34" height="13.82" fill="#6353ac"/>
<rect x="509.71" y="109.69" width="2.34" height="13.82" fill="#7550a1"/>
<rect x="370.00" y="123.46" width="2.34" height="13.82" fill="#bba7d1"/>
<rect x="372.29" y="123.46" width="2.34" height="13.82" fill="#e59eb2"/>
<rect x="374.57" y="123.46" width="2.34" height="13.82" fill="#b0b5e9"/>
<rect x="376.86" y="123.46" width="2.34" height="13.82" fill="#9fa6db"/>
<rect x="379.14" y="123.46" width="2.34" height="13.82" fill="#b697bc"/>
<rect x="381.43" y="123.46" width="2.34" height="13.82" fill="#7ac5ff"/>
<rect x="383.71" y="123.46" width="2.34" height="13.82" fill="#ce90a8"/>
<rect x="386.00" y="123.46" width="2.34" height="13.82" fill="#b8b9eb"/>
<rect x="388.29" y="123.46" width="2.34" height="13.82" fill="#8baff0"/>
<rect x="390.57" y="123.46" width="2.34" height="13.82" fill="#a7b1e8"/>
<rect x="392.86" y="123.46" width="2.34" height="13.82" fill="#a0c4ff"/>
<rect x="395.14" y="123.46" width="2.34" height="13.82" fill="#c7b0d8"/>
<rect x="397.43" y="123.46" width="2.34" height="13.82" fill="#a694bf"/>
<rect x="399.71" y="123.46" width="2.34" height="13.82" fill="#b49cc5"/>
<rect x="402.00" y="123.46" width="2.34" height="13.82" fill="#bea1c7"/>
<rect x="404.29" y="123.46" width="2.34" height="13.82" fill="#bdabd6"/>
<rect x="406.57" y="123.46" width="2.34" height="13.82" fill="#e4afcb"/>
<rect x="408.86" y="123.46" width="2.34" height="13.82" fill="#aeb2e6"/>
<rect x="411.14" y="123.46" width="2.34" height="13.82" fill="#f2a7b9"/>
<rect x="413.43" y="123.46" width="2.34" height="13.82" fill="#b4afdf"/>
<rect x="415.71" y="123.46" width="2.34" height="13.82" fill="#cab9e4"/>
<rect x="418.00" y="123.46" width="2.34" height="13.82" fill="#cdb0d5"/>
<rect x="420.29" y="123.46" width="2.34" height="13.82" fill="#ef8c93"/>
<rect x="422.57" y="123.46" width="2.34" height="13.82" fill="#999ed2"/>
<rect x="424.86" y="123.46" width="2.34" height="13.82" fill="#a9c1fd"/>
<rect x="427.14" y="123.46" width="2.34" height="13.82" fill="#e2bddf"/>
<rect x="429.43" y="123.46" width="2.34" height="13.82" fill="#8baff0"/>
<rect x="431.71" y="123.46" width="2.34" height="13.82" fill="#f8aec0"/>
<rect x="434.00" y="123.46" width="2.34" height="13.82" fill="#ffa6aa"/>
<rect x="436.29" y="123.46" width="2.34" height="13.82" fill="#e4a1b1"/>
<rect x="438.59" y="123.46" width="2.34" height="13.82" fill="#eeabbb"/>
<rect x="440.88" y="123.46" width="2.34" height="13.82" fill="#e3a6b9"/>
<rect x="443.18" y="123.46" width="2.34" height="13.82" fill="#fb8a86"/>
<rect x="445.47" y="123.46" width="2.34" height="13.82" fill="#d7adc8"/>
<rect x="447.76" y="123.46" width="2.34" height="13.82" fill="#dba1b5"/>
<rect x="450.06" y="123.46" width="2.34" height="13.82" fill="#ff988b"/>
<rect x="452.35" y="123.46" width="2.34" height="13.82" fill="#e6b2c7"/>
<rect x="454.65" y="123.46" width="2.34" height="13.82" fill="#ff8370"/>
<rect x="456.94" y="123.46" width="2.34" height="13.82" fill="#d4a8c1"/>
<rect x="459.24" y="123.46" width="2.34" height="13.82" fill="#edc0d9"/>
<rect x="461.53" y="123.46" width="2.34" height="13.82" fill="#ec99a2"/>
<rect x="463.82" y="123.46" width="2.34" height="13.82" fill="#e6959e"/>
<rect x="466.12" y="123.46" width="2.34" height="13.82" fill="#d5a7bf"/>
<rect x="468.41" y="123.46" width="2.34" height="13.82" fill="#ff7665"/>
<rect x="470.71" y="123.46" width="2.34" height="13.82" fill="#feafb9"/>
<rect x="473.00" y="123.46" width="2.34" height="13.82" fill="#ffb3b9"/>
<rect x="475.29" y="123.46" width="2.34" height="13.82" fill="#f1a0aa"/>
<rect x="477.59" y="123.46" width="2.34" height="13.82" fill="#d698aa"/>
<rect x="479.88" y="123.46" width="2.34" height="13.82" fill="#ff8881"/>
<rect x="482.18" y="123.46" width="2.34" height="13.82" fill="#da9cae"/>
<rect x="484.47" y="123.46" width="2.34" height="13.82" fill="#b58ca7"/>
<rect x="486.76" y="123.46" width="2.34" height="13.82" fill="#dba6bb"/>
<rect x="489.06" y="123.46" width="2.34" height="13.82" fill="#f1abb9"/>
<rect x="491.35" y="123.46" width="2.34" height="13.82" fill="#d89bad"/>
<rect x="493.65" y="123.46" width="2.34" height="13.82" fill="#f3a7b3"/>
<rect x="495.94" y="123.46" width="2.34" height="13.82" fill="#ba96b2"/>
<rect x="498.24" y="123.46" width="2.34" height="13.82" fill="#d6b5d3"/>
<rect x="500.53" y="123.46" width="2.34" height="13.82" fill="#f29092"/>
<rect x="502.82" y="123.46" width="2.34" height="13.82" fill="#f0abb9"/>
<rect x="505.12" y="123.46" width="2.34" height="13.82" fill="#fd908e"/>
<rect x="507.41" y="123.46" width="2.34" height="13.82" fill="#eeb4c7"/>
<rect x="509.71" y="123.46" width="2.34" height="13.82" fill="#ffa392"/>
<rect x="370.00" y="137.23" width="2.34" height="13.82" fill="#c2bde4"/>
<rect x="372.29" y="137.23" width="2.34" height="13.82" fill="#d1b1cd"/>
<rect x="374.57" y="137.23" width="2.34" height="13.82" fill="#c3aecf"/>
<rect x="376.86" y="137.23" width="2.34" height="13.82" fill="#efc5dd"/>
<rect x="379.14" y="137.23" width="2.34" height="13.82" fill="#f0b0be"/>
<rect x="381.43" y="137.23" width="2.34" height="13.82" fill="#d1a6be"/>
<rect x="383.71" y="137.23" width="2.34" height="13.82" fill="#e3c0db"/>
<rect x="386.00" y="137.23" width="2.34" height="13.82" fill="#ffc1ce"/>
<rect x="388.29" y="137.23" width="2.34" height="13.82" fill="#e0adc2"/>
<rect x="390.57" y="137.23" width="2.34" height="13.82" fill="#b5bfee"/>
<rect x="392.86" y="137.23" width="2.34" height="13.82" fill="#c0cefd"/>
<rect x="395.14" y="137.23" width="2.34" height="13.82" fill="#cab4d5"/>
<rect x="397.43" y="137.23" width="2.34" height="13.82" fill="#b1b3de"/>
<rect x="399.71" y="137.23" width="2.34" height="13.82" fill="#d0c4e8"/>
<rect x="402.00" y="137.23" width="2.34" height="13.82" fill="#d2a0b4"/>
<rect x="404.29" y="137.23" width="2.34" height="13.82" fill="#a8bcef"/>
<rect x="406.57" y="137.23" width="2.34" height="13.82" fill="#c0a6c4"/>
<rect x="408.86" y="137.23" width="2.34" height="13.82" fill="#e6a9b9"/>
<rect x="411.14" y="137.23" width="2.34" height="13.82" fill="#d5a8be"/>
<rect x="413.43" y="137.23" width="2.34" height="13.82" fill="#c6aece"/>
<rect x="415.71" y="137.23" width="2.34" height="13.82" fill="#b9c2f0"/>
<rect x="418.00" y="137.23" width="2.34" height="13.82" fill="#cf98aa"/>
<rect x="420.29" y="137.23" width="2.34" height="13.82" fill="#eabdd3"/>
<rect x="422.57" y="137.23" width="2.34" height="13.82" fill="#efbdd2"/>
<rect x="424.86" y="137.23" width="2.34" height="13.82" fill="#d3b1cd"/>
<rect x="427.14" y="137.23" width="2.34" height="13.82" fill="#aeaed8"/>
<rect x="429.43" y="137.23" width="2.34" height="13.82" fill="#a1b1e2"/>
<rect x="431.71" y="137.23" width="2.34" height="13.82" fill="#e6b4c9"/>
<rect x="434.00" y="137.23" width="2.34" height="13.82" fill="#ffa39f"/>
<rect x="436.29" y="137.23" width="2.34" height="13.82" fill="#d2b6cf"/>
<rect x="438.59" y="137.23" width="2.34" height="13.82" fill="#f7c0ce"/>
<rect x="440.88" y="137.23" width="2.34" height="13.82" fill="#ffa898"/>
<rect x="443.18" y="137.23" width="2.34" height="13.82" fill="#c2abc7"/>
<rect x="445.47" y="137.23" width="2.34" height="13.82" fill="#e2a0a9"/>
<rect x="447.76" y="137.23" width="2.34" height="13.82" fill="#fbaeb3"/>
<rect x="450.06" y="137.23" width="2.34" height="13.82" fill="#fda6a7"/>
<rect x="452.35" y="137.23" width="2.34" height="13.82" fill="#c5a5be"/>
<rect x="454.65" y="137.23" width="2.34" height="13.82" fill="#f2bac8"/>
<rect x="456.94" y="137.23" width="2.34" height="13.82" fill="#ffaaa1"/>
<rect x="459.24" y="137.23" width="2.34" height="13.82" fill="#f7afb6"/>
<rect x="461.53" y="137.23" width="2.34" height="13.82" fill="#ffb3b4"/>
<rect x="463.82" y="137.23" width="2.34" height="13.82" fill="#e99191"/>
<rect x="466.12" y="137.23" width="2.34" height="13.82" fill="#ffa8a6"/>
<rect x="468.41" y="137.23" width="2.34" height="13.82" fill="#e0b3c5"/>
<rect x="470.71" y="137.23" width="2.34" height="13.82" fill="#eca7af"/>
<rect x="473.00" y="137.23" width="2.34" height="13.82" fill="#bcb6da"/>
<rect x="475.29" y="137.23" width="2.34" height="13.82" fill="#f3a5a9"/>
<rect x="477.59" y="137.23" width="2.34" height="13.82" fill="#c3badc"/>
<rect x="479.88" y="137.23" width="2.34" height="13.82" fill="#faa7a9"/>
<rect x="482.18" y="137.23" width="2.34" height="13.82" fill="#eca2a8"/>
<rect x="484.47" y="137.23" width="2.34" height="13.82" fill="#dbb4c9"/>
<rect x="486.76" y="137.23" width="2.34" height="13.82" fill="#dfaebf"/>
<rect x="489.06" y="137.23" width="2.34" height="13.82" fill="#ff9c7b"/>
<rect x="491.35" y="137.23" width="2.34" height="13.82" fill="#d5959f"/>
<rect x="493.65" y="137.23" width="2.34" height="13.82" fill="#f1b2bd"/>
<rect x="495.94" y="137.23" width="2.34" height="13.82" fill="#d1acc1"/>
<rect x="498.24" y="137.23" width="2.34" height="13.82" fill="#b3c0eb"/>
<rect x="500.53" y="137.23" width="2.34" height="13.82" fill="#dfb6ca"/>
<rect x="502.82" y="137.23" width="2.34" height="13.82" fill="#ff9e97"/>
<rect x="505.12" y="137.23" width="2.34" height="13.82" fill="#ffa6a4"/>
<rect x="507.41" y="137.23" width="2.34" height="13.82" fill="#dda8b6"/>
<rect x="509.71" y="137.23" width="2.34" height="13.82" fill="#dfbfd7"/>
<rect x="366.4" y="14" width="2.2" height="40.3" fill="#1d9a4a"/>
<rect x="366.4" y="54.3" width="2.2" height="96.7" fill="#f0e030"/>
<rect x="362.4" y="14.5" width="1.3" height="94" fill="#3a3a60"/>
<rect x="362.4" y="111" width="1.3" height="40" fill="#3a3a60"/>
<rect x="370" y="153.5" width="64" height="2.4" fill="#f0e030"/>
<rect x="434" y="153.5" width="78" height="2.4" fill="#1d9a4a"/>
<defs><linearGradient id="cb" x1="0" y1="0" x2="0" y2="1"><stop offset="0" stop-color="#ee2030"/><stop offset="0.5" stop-color="#ffffff"/><stop offset="1" stop-color="#3a50b8"/></linearGradient></defs>
<rect x="298.2" y="15.2" width="7.4" height="42.2" fill="url(#cb)" stroke="#333" stroke-width="0.6"/>
<text x="303.6" y="11.7" font-size="6.8" text-anchor="middle" fill="#333" font-weight="normal" >Row max</text>
<text x="303.6" y="64.6" font-size="6.8" text-anchor="middle" fill="#333" font-weight="normal" >Row min</text>
<text x="366.5" y="8.5" font-size="6.8" text-anchor="middle" fill="#333" font-weight="normal" >k_means</text>
<text x="436.9" y="166" font-size="6.4" text-anchor="middle" fill="#333" font-weight="normal" >k_means</text>
<text x="358.8" y="37.5" font-size="9.3" text-anchor="end" fill="#161616" font-weight="normal" stroke="#161616" stroke-width="0.14" >WT Ctrl</text>
<text x="358.8" y="86.2" font-size="9.3" text-anchor="end" fill="#161616" stroke="#161616" stroke-width="0.14">Mertk<tspan font-size="4.5" dy="-4">ΔMφ</tspan><tspan dy="4"> Ctrl</tspan></text>
<text x="358.8" y="133" font-size="9.3" text-anchor="end" fill="#161616" font-weight="normal" stroke="#161616" stroke-width="0.14" >WT Ptdss1-KD</text>
<text x="273.4" y="11.8" font-size="15.5" text-anchor="start" fill="#111" font-weight="bold" >B</text>
<text x="0.5" y="179.6" font-size="15.5" text-anchor="start" fill="#111" font-weight="bold" >C</text>
<text x="16" y="185" font-size="9.15" text-anchor="start" fill="#161616" font-weight="normal" stroke="#161616" stroke-width="0.14" >Upregulated in WT Ctrl tumor-associated macrophages</text>
<rect x="3" y="193" width="143" height="146" fill="#f1f1f1"/>
<rect x="5" y="200" width="139" height="137" fill="#ffffff"/>
<text x="75.4" y="198.6" font-size="5.8" text-anchor="middle" fill="#111" font-weight="bold" >Enrichment plot: GOBP_CELL_DIVISION</text>
<rect x="22.3" y="201.3" width="121.50000000000001" height="54.19999999999999" fill="#fff" stroke="#c8c8c8" stroke-width="0.5"/>
<line x1="22.3" y1="253.50" x2="143.8" y2="253.50" stroke="#eee" stroke-width="0.4"/>
<text x="20.8" y="254.8" font-size="3.8" text-anchor="end" fill="#555" font-weight="normal" >0.00</text>
<line x1="22.3" y1="247.98" x2="143.8" y2="247.98" stroke="#eee" stroke-width="0.4"/>
<text x="20.8" y="249.2777777777778" font-size="3.8" text-anchor="end" fill="#555" font-weight="normal" >0.05</text>
<line x1="22.3" y1="242.46" x2="143.8" y2="242.46" stroke="#eee" stroke-width="0.4"/>
<text x="20.8" y="243.75555555555556" font-size="3.8" text-anchor="end" fill="#555" font-weight="normal" >0.10</text>
<line x1="22.3" y1="236.93" x2="143.8" y2="236.93" stroke="#eee" stroke-width="0.4"/>
<text x="20.8" y="238.23333333333335" font-size="3.8" text-anchor="end" fill="#555" font-weight="normal" >0.15</text>
<line x1="22.3" y1="231.41" x2="143.8" y2="231.41" stroke="#eee" stroke-width="0.4"/>
<text x="20.8" y="232.71111111111114" font-size="3.8" text-anchor="end" fill="#555" font-weight="normal" >0.20</text>
<line x1="22.3" y1="225.89" x2="143.8" y2="225.89" stroke="#eee" stroke-width="0.4"/>
<text x="20.8" y="227.1888888888889" font-size="3.8" text-anchor="end" fill="#555" font-weight="normal" >0.25</text>
<line x1="22.3" y1="220.37" x2="143.8" y2="220.37" stroke="#eee" stroke-width="0.4"/>
<text x="20.8" y="221.66666666666669" font-size="3.8" text-anchor="end" fill="#555" font-weight="normal" >0.30</text>
<line x1="22.3" y1="214.84" x2="143.8" y2="214.84" stroke="#eee" stroke-width="0.4"/>
<text x="20.8" y="216.14444444444447" font-size="3.8" text-anchor="end" fill="#555" font-weight="normal" >0.35</text>
<line x1="22.3" y1="209.32" x2="143.8" y2="209.32" stroke="#eee" stroke-width="0.4"/>
<text x="20.8" y="210.62222222222223" font-size="3.8" text-anchor="end" fill="#555" font-weight="normal" >0.40</text>
<line x1="22.3" y1="203.80" x2="143.8" y2="203.80" stroke="#eee" stroke-width="0.4"/>
<text x="20.8" y="205.10000000000002" font-size="3.8" text-anchor="end" fill="#555" font-weight="normal" >0.45</text>
<line x1="32.43" y1="201.3" x2="32.43" y2="255.5" stroke="#eee" stroke-width="0.4"/>
<line x1="42.55" y1="201.3" x2="42.55" y2="255.5" stroke="#eee" stroke-width="0.4"/>
<line x1="52.68" y1="201.3" x2="52.68" y2="255.5" stroke="#eee" stroke-width="0.4"/>
<line x1="62.80" y1="201.3" x2="62.80" y2="255.5" stroke="#eee" stroke-width="0.4"/>
<line x1="72.93" y1="201.3" x2="72.93" y2="255.5" stroke="#eee" stroke-width="0.4"/>
<line x1="83.05" y1="201.3" x2="83.05" y2="255.5" stroke="#eee" stroke-width="0.4"/>
<line x1="93.18" y1="201.3" x2="93.18" y2="255.5" stroke="#eee" stroke-width="0.4"/>
<line x1="103.30" y1="201.3" x2="103.30" y2="255.5" stroke="#eee" stroke-width="0.4"/>
<line x1="113.43" y1="201.3" x2="113.43" y2="255.5" stroke="#eee" stroke-width="0.4"/>
<line x1="123.55" y1="201.3" x2="123.55" y2="255.5" stroke="#eee" stroke-width="0.4"/>
<line x1="133.68" y1="201.3" x2="133.68" y2="255.5" stroke="#eee" stroke-width="0.4"/>
<polyline points="21.9,244.9 24.8,247.3 27.2,249.7 29.1,241.3 30.8,242.5 32.0,238.9 34.0,240.8 35.6,234.0 37.3,231.7 38.8,226.4 39.7,216.0 41.2,213.6 42.1,211.2 43.6,203.3 46.4,206.4 48.8,205.2 58.5,214.8 62.0,215.3 71.7,223.2 78.9,228.0 84.9,232.9 89.7,234.0 93.3,231.7 95.0,228.0 97.4,229.2 100.5,228.0 103.0,229.5 107.7,233.6 109.4,230.5 117.4,238.9 119.0,234.0 137.8,254.5" fill="none" stroke="#6cc04a" stroke-width="0.9"/>
<text transform="translate(8.5,228.4) rotate(-90)" font-size="3.8" text-anchor="middle" fill="#333" font-weight="bold">Enrichment score (ES)</text>
<rect x="22.3" y="257.2" width="121.50000000000001" height="19.400000000000034" fill="#fff" stroke="#ccc" stroke-width="0.4"/>
<line x1="22.48" y1="257.7" x2="22.48" y2="276.6" stroke="#2a2a2a" stroke-width="0.55"/>
<line x1="27.38" y1="257.7" x2="27.38" y2="276.6" stroke="#2a2a2a" stroke-width="0.55"/>
<line x1="28.82" y1="257.7" x2="28.82" y2="276.6" stroke="#2a2a2a" stroke-width="0.55"/>
<line x1="30.84" y1="257.7" x2="30.84" y2="276.6" stroke="#2a2a2a" stroke-width="0.55"/>
<line x1="32.28" y1="257.7" x2="32.28" y2="276.6" stroke="#2a2a2a" stroke-width="0.55"/>
<line x1="34.58" y1="257.7" x2="34.58" y2="276.6" stroke="#2a2a2a" stroke-width="0.55"/>
<line x1="36.02" y1="257.7" x2="36.02" y2="276.6" stroke="#2a2a2a" stroke-width="0.55"/>
<line x1="37.46" y1="257.7" x2="37.46" y2="276.6" stroke="#2a2a2a" stroke-width="0.55"/>
<line x1="38.90" y1="257.7" x2="38.90" y2="276.6" stroke="#2a2a2a" stroke-width="0.55"/>
<line x1="39.77" y1="257.7" x2="39.77" y2="276.6" stroke="#2a2a2a" stroke-width="0.55"/>
<line x1="40.92" y1="257.7" x2="40.92" y2="276.6" stroke="#2a2a2a" stroke-width="0.55"/>
<line x1="41.79" y1="257.7" x2="41.79" y2="276.6" stroke="#2a2a2a" stroke-width="0.55"/>
<line x1="43.23" y1="257.7" x2="43.23" y2="276.6" stroke="#2a2a2a" stroke-width="0.55"/>
<line x1="48.99" y1="257.7" x2="48.99" y2="276.6" stroke="#2a2a2a" stroke-width="0.55"/>
<line x1="59.08" y1="257.7" x2="59.08" y2="276.6" stroke="#2a2a2a" stroke-width="0.55"/>
<line x1="61.96" y1="257.7" x2="61.96" y2="276.6" stroke="#2a2a2a" stroke-width="0.55"/>
<line x1="65.71" y1="257.7" x2="65.71" y2="276.6" stroke="#2a2a2a" stroke-width="0.55"/>
<line x1="71.47" y1="257.7" x2="71.47" y2="276.6" stroke="#2a2a2a" stroke-width="0.55"/>
<line x1="76.37" y1="257.7" x2="76.37" y2="276.6" stroke="#2a2a2a" stroke-width="0.55"/>
<line x1="77.81" y1="257.7" x2="77.81" y2="276.6" stroke="#2a2a2a" stroke-width="0.55"/>
<line x1="79.25" y1="257.7" x2="79.25" y2="276.6" stroke="#2a2a2a" stroke-width="0.55"/>
<line x1="80.12" y1="257.7" x2="80.12" y2="276.6" stroke="#2a2a2a" stroke-width="0.55"/>
<line x1="84.15" y1="257.7" x2="84.15" y2="276.6" stroke="#2a2a2a" stroke-width="0.55"/>
<line x1="86.46" y1="257.7" x2="86.46" y2="276.6" stroke="#2a2a2a" stroke-width="0.55"/>
<line x1="88.76" y1="257.7" x2="88.76" y2="276.6" stroke="#2a2a2a" stroke-width="0.55"/>
<line x1="91.64" y1="257.7" x2="91.64" y2="276.6" stroke="#2a2a2a" stroke-width="0.55"/>
<line x1="92.80" y1="257.7" x2="92.80" y2="276.6" stroke="#2a2a2a" stroke-width="0.55"/>
<line x1="96.54" y1="257.7" x2="96.54" y2="276.6" stroke="#2a2a2a" stroke-width="0.55"/>
<line x1="100.86" y1="257.7" x2="100.86" y2="276.6" stroke="#2a2a2a" stroke-width="0.55"/>
<line x1="106.63" y1="257.7" x2="106.63" y2="276.6" stroke="#2a2a2a" stroke-width="0.55"/>
<line x1="116.71" y1="257.7" x2="116.71" y2="276.6" stroke="#2a2a2a" stroke-width="0.55"/>
<defs><linearGradient id="g3_0"><stop offset="0" stop-color="#e03848"/><stop offset="1" stop-color="#e86070"/></linearGradient></defs>
<rect x="22.30" y="276.6" width="43.02" height="4.9" fill="url(#g3_0)"/>
<defs><linearGradient id="g3_1"><stop offset="0" stop-color="#f0a0b8"/><stop offset="1" stop-color="#f4c0d0"/></linearGradient></defs>
<rect x="65.22" y="276.6" width="10.54" height="4.9" fill="url(#g3_1)"/>
<defs><linearGradient id="g3_2"><stop offset="0" stop-color="#e4dcf0"/><stop offset="1" stop-color="#c8c0e8"/></linearGradient></defs>
<rect x="75.66" y="276.6" width="18.66" height="4.9" fill="url(#g3_2)"/>
<defs><linearGradient id="g3_3"><stop offset="0" stop-color="#7070c0"/><stop offset="1" stop-color="#5050b0"/></linearGradient></defs>
<rect x="94.22" y="276.6" width="30.26" height="4.9" fill="url(#g3_3)"/>
<defs><linearGradient id="g3_4"><stop offset="0" stop-color="#3030a0"/><stop offset="1" stop-color="#28289a"/></linearGradient></defs>
<rect x="124.38" y="276.6" width="14.02" height="4.9" fill="url(#g3_4)"/>
<text x="23.3" y="283.6" font-size="2.6" text-anchor="start" fill="#e03040" font-weight="normal" >'Ctrl' (positively correlated)</text>
<rect x="22.3" y="285.3" width="121.50000000000001" height="34.69999999999999" fill="#fff" stroke="#ccc" stroke-width="0.4"/>
<polygon points="22.3,303.0 22.3,289.5 23.5,290.8 24.7,292.1 25.9,293.4 27.0,294.7 28.2,296.0 29.4,296.2 30.6,296.3 31.8,296.5 33.0,296.6 34.2,296.8 35.3,296.9 36.5,297.1 37.7,297.2 38.9,297.4 40.1,297.5 41.3,297.7 42.4,297.8 43.6,298.0 44.8,298.1 46.0,298.3 47.2,298.4 48.4,298.6 49.6,298.7 50.7,298.9 51.9,299.0 53.1,299.2 54.3,299.3 55.5,299.5 56.7,299.7 57.9,299.8 59.0,300.0 60.2,300.1 61.4,300.3 62.6,300.4 63.8,300.6 65.0,300.7 66.1,300.9 67.3,301.0 68.5,301.2 69.7,301.3 70.9,301.5 72.1,301.6 73.3,301.8 74.4,301.9 75.6,302.1 76.8,302.2 78.0,302.4 79.2,302.5 80.4,302.7 81.6,302.8 82.7,303.0 83.9,303.2 85.1,303.3 86.3,303.5 87.5,303.6 88.7,303.8 89.8,303.9 91.0,304.1 92.2,304.2 93.4,304.4 94.6,304.5 95.8,304.7 97.0,304.8 98.1,305.0 99.3,305.1 100.5,305.3 101.7,305.4 102.9,305.6 104.1,305.7 105.2,305.9 106.4,306.0 107.6,306.2 108.8,306.3 110.0,306.5 111.2,306.7 112.4,306.8 113.5,307.0 114.7,307.1 115.9,307.3 117.1,307.4 118.3,307.6 119.5,307.7 120.7,307.9 121.8,308.0 123.0,308.2 124.2,308.3 125.4,308.5 126.6,308.6 127.8,308.8 129.0,308.9 130.1,309.1 131.3,309.2 132.5,309.4 133.7,309.5 134.9,309.7 136.1,309.8 137.2,310.0 138.4,312.0 139.6,314.0 140.8,316.0 140.8,303.0" fill="#c4c4c4"/>
<line x1="22.3" y1="303" x2="143.8" y2="303" stroke="#999" stroke-width="0.3"/>
<text x="20.8" y="289.2" font-size="3.5" text-anchor="end" fill="#555" font-weight="normal" >2</text>
<text x="20.8" y="296.7" font-size="3.5" text-anchor="end" fill="#555" font-weight="normal" >1</text>
<text x="20.8" y="304.2" font-size="3.5" text-anchor="end" fill="#555" font-weight="normal" >0</text>
<text x="20.8" y="311.7" font-size="3.5" text-anchor="end" fill="#555" font-weight="normal" >-1</text>
<text x="83.05000000000001" y="300.3" font-size="2.6" text-anchor="middle" fill="#555" font-weight="normal" >Zero cross at 283</text>
<text x="139.8" y="316.6" font-size="2.6" text-anchor="end" fill="#3030a0" font-weight="normal" >'WildType' (negatively correlated)</text>
<text transform="translate(13.3,300.65) rotate(-90)" font-size="3.4" text-anchor="middle" fill="#333" font-weight="bold">Ranked list metric (Signal2Noise)</text>
<text x="22.3" y="323" font-size="2.8" text-anchor="middle" fill="#555" font-weight="normal" >0</text>
<text x="33.07272727272728" y="323" font-size="2.8" text-anchor="middle" fill="#555" font-weight="normal" >50</text>
<text x="43.845454545454544" y="323" font-size="2.8" text-anchor="middle" fill="#555" font-weight="normal" >100</text>
<text x="54.618181818181824" y="323" font-size="2.8" text-anchor="middle" fill="#555" font-weight="normal" >150</text>
<text x="65.39090909090909" y="323" font-size="2.8" text-anchor="middle" fill="#555" font-weight="normal" >200</text>
<text x="76.16363636363637" y="323" font-size="2.8" text-anchor="middle" fill="#555" font-weight="normal" >250</text>
<text x="86.93636363636364" y="323" font-size="2.8" text-anchor="middle" fill="#555" font-weight="normal" >300</text>
<text x="97.70909090909092" y="323" font-size="2.8" text-anchor="middle" fill="#555" font-weight="normal" >350</text>
<text x="108.48181818181818" y="323" font-size="2.8" text-anchor="middle" fill="#555" font-weight="normal" >400</text>
<text x="119.25454545454548" y="323" font-size="2.8" text-anchor="middle" fill="#555" font-weight="normal" >450</text>
<text x="130.02727272727276" y="323" font-size="2.8" text-anchor="middle" fill="#555" font-weight="normal" >500</text>
<text x="140.8" y="323" font-size="2.8" text-anchor="middle" fill="#555" font-weight="normal" >550</text>
<text x="83.05000000000001" y="327.3" font-size="3.6" text-anchor="middle" fill="#161616" font-weight="bold" >Rank in ordered dataset</text>
<rect x="21.8" y="331.4" width="106.20500000000003" height="5.8" fill="#fff" stroke="#aaa" stroke-width="0.4"/>
<line x1="23.3" y1="334.3" x2="25.8" y2="334.3" stroke="#6cc04a" stroke-width="0.7"/>
<text x="26.3" y="335.5" font-size="3.4" text-anchor="start" fill="#333" font-weight="normal" >Enrichment profile</text>
<line x1="57.8" y1="334.3" x2="60.3" y2="334.3" stroke="#333" stroke-width="0.5"/>
<text x="60.8" y="335.5" font-size="3.4" text-anchor="start" fill="#333" font-weight="normal" >Hits</text>
<line x1="77.8" y1="334.3" x2="80.3" y2="334.3" stroke="#aaa" stroke-width="0.6"/>
<text x="81.8" y="335.5" font-size="3.4" text-anchor="start" fill="#333" font-weight="normal" >Ranking metric scores</text>
<rect x="150.6" y="193" width="144.00000000000003" height="146" fill="#f1f1f1"/>
<rect x="152.6" y="200" width="140.00000000000003" height="137" fill="#ffffff"/>
<text x="222.6" y="198.6" font-size="5.67" text-anchor="middle" fill="#111" font-weight="bold" >Enrichment plot: REACTOME_CELL_CYCLE</text>
<rect x="167.5" y="201.3" width="124.80000000000001" height="54.19999999999999" fill="#fff" stroke="#c8c8c8" stroke-width="0.5"/>
<line x1="167.5" y1="253.50" x2="292.3" y2="253.50" stroke="#eee" stroke-width="0.4"/>
<text x="166.0" y="254.8" font-size="3.8" text-anchor="end" fill="#555" font-weight="normal" >0.0</text>
<line x1="167.5" y1="243.56" x2="292.3" y2="243.56" stroke="#eee" stroke-width="0.4"/>
<text x="166.0" y="244.86" font-size="3.8" text-anchor="end" fill="#555" font-weight="normal" >0.1</text>
<line x1="167.5" y1="233.62" x2="292.3" y2="233.62" stroke="#eee" stroke-width="0.4"/>
<text x="166.0" y="234.92000000000002" font-size="3.8" text-anchor="end" fill="#555" font-weight="normal" >0.2</text>
<line x1="167.5" y1="223.68" x2="292.3" y2="223.68" stroke="#eee" stroke-width="0.4"/>
<text x="166.0" y="224.98000000000002" font-size="3.8" text-anchor="end" fill="#555" font-weight="normal" >0.3</text>
<line x1="167.5" y1="213.74" x2="292.3" y2="213.74" stroke="#eee" stroke-width="0.4"/>
<text x="166.0" y="215.04000000000002" font-size="3.8" text-anchor="end" fill="#555" font-weight="normal" >0.4</text>
<line x1="167.5" y1="203.80" x2="292.3" y2="203.80" stroke="#eee" stroke-width="0.4"/>
<text x="166.0" y="205.10000000000002" font-size="3.8" text-anchor="end" fill="#555" font-weight="normal" >0.5</text>
<line x1="177.90" y1="201.3" x2="177.90" y2="255.5" stroke="#eee" stroke-width="0.4"/>
<line x1="188.30" y1="201.3" x2="188.30" y2="255.5" stroke="#eee" stroke-width="0.4"/>
<line x1="198.70" y1="201.3" x2="198.70" y2="255.5" stroke="#eee" stroke-width="0.4"/>
<line x1="209.10" y1="201.3" x2="209.10" y2="255.5" stroke="#eee" stroke-width="0.4"/>
<line x1="219.50" y1="201.3" x2="219.50" y2="255.5" stroke="#eee" stroke-width="0.4"/>
<line x1="229.90" y1="201.3" x2="229.90" y2="255.5" stroke="#eee" stroke-width="0.4"/>
<line x1="240.30" y1="201.3" x2="240.30" y2="255.5" stroke="#eee" stroke-width="0.4"/>
<line x1="250.70" y1="201.3" x2="250.70" y2="255.5" stroke="#eee" stroke-width="0.4"/>
<line x1="261.10" y1="201.3" x2="261.10" y2="255.5" stroke="#eee" stroke-width="0.4"/>
<line x1="271.50" y1="201.3" x2="271.50" y2="255.5" stroke="#eee" stroke-width="0.4"/>
<line x1="281.90" y1="201.3" x2="281.90" y2="255.5" stroke="#eee" stroke-width="0.4"/>
<polyline points="167.0,255.2 168.3,248.0 170.2,237.3 172.3,238.8 174.5,226.5 177.0,218.8 178.5,222.0 181.5,215.8 183.7,211.2 186.0,205.0 187.7,204.0 190.8,207.0 197.0,212.0 198.5,210.2 210.8,220.4 217.0,223.5 224.6,229.6 229.2,231.0 241.5,238.8 244.6,235.8 247.7,232.7 263.0,246.5 265.5,243.5 269.2,248.0 270.8,245.0 278.5,252.7 280.0,249.6 286.2,254.2" fill="none" stroke="#6cc04a" stroke-width="0.9"/>
<text transform="translate(156.1,228.4) rotate(-90)" font-size="3.8" text-anchor="middle" fill="#333" font-weight="bold">Enrichment score (ES)</text>
<rect x="167.5" y="257.2" width="124.80000000000001" height="19.400000000000034" fill="#fff" stroke="#ccc" stroke-width="0.4"/>
<line x1="168.30" y1="257.7" x2="168.30" y2="276.6" stroke="#2a2a2a" stroke-width="0.55"/>
<line x1="170.20" y1="257.7" x2="170.20" y2="276.6" stroke="#2a2a2a" stroke-width="0.55"/>
<line x1="171.70" y1="257.7" x2="171.70" y2="276.6" stroke="#2a2a2a" stroke-width="0.55"/>
<line x1="173.20" y1="257.7" x2="173.20" y2="276.6" stroke="#2a2a2a" stroke-width="0.55"/>
<line x1="174.50" y1="257.7" x2="174.50" y2="276.6" stroke="#2a2a2a" stroke-width="0.55"/>
<line x1="176.00" y1="257.7" x2="176.00" y2="276.6" stroke="#2a2a2a" stroke-width="0.55"/>
<line x1="177.50" y1="257.7" x2="177.50" y2="276.6" stroke="#2a2a2a" stroke-width="0.55"/>
<line x1="181.50" y1="257.7" x2="181.50" y2="276.6" stroke="#2a2a2a" stroke-width="0.55"/>
<line x1="183.00" y1="257.7" x2="183.00" y2="276.6" stroke="#2a2a2a" stroke-width="0.55"/>
<line x1="184.60" y1="257.7" x2="184.60" y2="276.6" stroke="#2a2a2a" stroke-width="0.55"/>
<line x1="185.50" y1="257.7" x2="185.50" y2="276.6" stroke="#2a2a2a" stroke-width="0.55"/>
<line x1="186.80" y1="257.7" x2="186.80" y2="276.6" stroke="#2a2a2a" stroke-width="0.55"/>
<line x1="198.50" y1="257.7" x2="198.50" y2="276.6" stroke="#2a2a2a" stroke-width="0.55"/>
<line x1="210.00" y1="257.7" x2="210.00" y2="276.6" stroke="#2a2a2a" stroke-width="0.55"/>
<line x1="213.80" y1="257.7" x2="213.80" y2="276.6" stroke="#2a2a2a" stroke-width="0.55"/>
<line x1="215.40" y1="257.7" x2="215.40" y2="276.6" stroke="#2a2a2a" stroke-width="0.55"/>
<line x1="218.50" y1="257.7" x2="218.50" y2="276.6" stroke="#2a2a2a" stroke-width="0.55"/>
<line x1="219.40" y1="257.7" x2="219.40" y2="276.6" stroke="#2a2a2a" stroke-width="0.55"/>
<line x1="220.60" y1="257.7" x2="220.60" y2="276.6" stroke="#2a2a2a" stroke-width="0.55"/>
<line x1="222.50" y1="257.7" x2="222.50" y2="276.6" stroke="#2a2a2a" stroke-width="0.55"/>
<line x1="224.00" y1="257.7" x2="224.00" y2="276.6" stroke="#2a2a2a" stroke-width="0.55"/>
<line x1="226.00" y1="257.7" x2="226.00" y2="276.6" stroke="#2a2a2a" stroke-width="0.55"/>
<line x1="235.40" y1="257.7" x2="235.40" y2="276.6" stroke="#2a2a2a" stroke-width="0.55"/>
<line x1="241.00" y1="257.7" x2="241.00" y2="276.6" stroke="#2a2a2a" stroke-width="0.55"/>
<line x1="242.00" y1="257.7" x2="242.00" y2="276.6" stroke="#2a2a2a" stroke-width="0.55"/>
<line x1="244.60" y1="257.7" x2="244.60" y2="276.6" stroke="#2a2a2a" stroke-width="0.55"/>
<line x1="247.00" y1="257.7" x2="247.00" y2="276.6" stroke="#2a2a2a" stroke-width="0.55"/>
<line x1="264.60" y1="257.7" x2="264.60" y2="276.6" stroke="#2a2a2a" stroke-width="0.55"/>
<line x1="270.80" y1="257.7" x2="270.80" y2="276.6" stroke="#2a2a2a" stroke-width="0.55"/>
<line x1="280.00" y1="257.7" x2="280.00" y2="276.6" stroke="#2a2a2a" stroke-width="0.55"/>
<defs><linearGradient id="g150_0"><stop offset="0" stop-color="#e03848"/><stop offset="1" stop-color="#e86070"/></linearGradient></defs>
<rect x="167.50" y="276.6" width="44.24" height="4.9" fill="url(#g150_0)"/>
<defs><linearGradient id="g150_1"><stop offset="0" stop-color="#f0a0b8"/><stop offset="1" stop-color="#f4c0d0"/></linearGradient></defs>
<rect x="211.64" y="276.6" width="10.84" height="4.9" fill="url(#g150_1)"/>
<defs><linearGradient id="g150_2"><stop offset="0" stop-color="#e4dcf0"/><stop offset="1" stop-color="#c8c0e8"/></linearGradient></defs>
<rect x="222.38" y="276.6" width="19.19" height="4.9" fill="url(#g150_2)"/>
<defs><linearGradient id="g150_3"><stop offset="0" stop-color="#7070c0"/><stop offset="1" stop-color="#5050b0"/></linearGradient></defs>
<rect x="241.47" y="276.6" width="31.12" height="4.9" fill="url(#g150_3)"/>
<defs><linearGradient id="g150_4"><stop offset="0" stop-color="#3030a0"/><stop offset="1" stop-color="#28289a"/></linearGradient></defs>
<rect x="272.48" y="276.6" width="14.42" height="4.9" fill="url(#g150_4)"/>
<text x="168.5" y="283.6" font-size="2.6" text-anchor="start" fill="#e03040" font-weight="normal" >'Ctrl' (positively correlated)</text>
<rect x="167.5" y="285.3" width="124.80000000000001" height="34.69999999999999" fill="#fff" stroke="#ccc" stroke-width="0.4"/>
<polygon points="167.5,303.0 167.5,289.5 168.7,290.8 169.9,292.1 171.2,293.4 172.4,294.7 173.6,296.0 174.8,296.2 176.0,296.3 177.2,296.5 178.5,296.6 179.7,296.8 180.9,296.9 182.1,297.1 183.3,297.2 184.6,297.4 185.8,297.5 187.0,297.7 188.2,297.8 189.4,298.0 190.6,298.1 191.9,298.3 193.1,298.4 194.3,298.6 195.5,298.7 196.7,298.9 197.9,299.0 199.2,299.2 200.4,299.3 201.6,299.5 202.8,299.7 204.0,299.8 205.3,300.0 206.5,300.1 207.7,300.3 208.9,300.4 210.1,300.6 211.3,300.7 212.6,300.9 213.8,301.0 215.0,301.2 216.2,301.3 217.4,301.5 218.7,301.6 219.9,301.8 221.1,301.9 222.3,302.1 223.5,302.2 224.7,302.4 226.0,302.5 227.2,302.7 228.4,302.8 229.6,303.0 230.8,303.2 232.1,303.3 233.3,303.5 234.5,303.6 235.7,303.8 236.9,303.9 238.1,304.1 239.4,304.2 240.6,304.4 241.8,304.5 243.0,304.7 244.2,304.8 245.5,305.0 246.7,305.1 247.9,305.3 249.1,305.4 250.3,305.6 251.5,305.7 252.8,305.9 254.0,306.0 255.2,306.2 256.4,306.3 257.6,306.5 258.9,306.7 260.1,306.8 261.3,307.0 262.5,307.1 263.7,307.3 264.9,307.4 266.2,307.6 267.4,307.7 268.6,307.9 269.8,308.0 271.0,308.2 272.2,308.3 273.5,308.5 274.7,308.6 275.9,308.8 277.1,308.9 278.3,309.1 279.6,309.2 280.8,309.4 282.0,309.5 283.2,309.7 284.4,309.8 285.6,310.0 286.9,312.0 288.1,314.0 289.3,316.0 289.3,303.0" fill="#c4c4c4"/>
<line x1="167.5" y1="303" x2="292.3" y2="303" stroke="#999" stroke-width="0.3"/>
<text x="166.0" y="289.2" font-size="3.5" text-anchor="end" fill="#555" font-weight="normal" >2</text>
<text x="166.0" y="296.7" font-size="3.5" text-anchor="end" fill="#555" font-weight="normal" >1</text>
<text x="166.0" y="304.2" font-size="3.5" text-anchor="end" fill="#555" font-weight="normal" >0</text>
<text x="166.0" y="311.7" font-size="3.5" text-anchor="end" fill="#555" font-weight="normal" >-1</text>
<text x="229.9" y="300.3" font-size="2.6" text-anchor="middle" fill="#555" font-weight="normal" >Zero cross at 283</text>
<text x="288.3" y="316.6" font-size="2.6" text-anchor="end" fill="#3030a0" font-weight="normal" >'WildType' (negatively correlated)</text>
<text transform="translate(160.9,300.65) rotate(-90)" font-size="3.4" text-anchor="middle" fill="#333" font-weight="bold">Ranked list metric (Signal2Noise)</text>
<text x="167.5" y="323" font-size="2.8" text-anchor="middle" fill="#555" font-weight="normal" >0</text>
<text x="178.57272727272726" y="323" font-size="2.8" text-anchor="middle" fill="#555" font-weight="normal" >50</text>
<text x="189.64545454545456" y="323" font-size="2.8" text-anchor="middle" fill="#555" font-weight="normal" >100</text>
<text x="200.71818181818182" y="323" font-size="2.8" text-anchor="middle" fill="#555" font-weight="normal" >150</text>
<text x="211.7909090909091" y="323" font-size="2.8" text-anchor="middle" fill="#555" font-weight="normal" >200</text>
<text x="222.86363636363637" y="323" font-size="2.8" text-anchor="middle" fill="#555" font-weight="normal" >250</text>
<text x="233.93636363636364" y="323" font-size="2.8" text-anchor="middle" fill="#555" font-weight="normal" >300</text>
<text x="245.0090909090909" y="323" font-size="2.8" text-anchor="middle" fill="#555" font-weight="normal" >350</text>
<text x="256.0818181818182" y="323" font-size="2.8" text-anchor="middle" fill="#555" font-weight="normal" >400</text>
<text x="267.1545454545454" y="323" font-size="2.8" text-anchor="middle" fill="#555" font-weight="normal" >450</text>
<text x="278.22727272727275" y="323" font-size="2.8" text-anchor="middle" fill="#555" font-weight="normal" >500</text>
<text x="289.3" y="323" font-size="2.8" text-anchor="middle" fill="#555" font-weight="normal" >550</text>
<text x="229.9" y="327.3" font-size="3.6" text-anchor="middle" fill="#161616" font-weight="bold" >Rank in ordered dataset</text>
<rect x="167.0" y="331.4" width="109.07600000000002" height="5.8" fill="#fff" stroke="#aaa" stroke-width="0.4"/>
<line x1="168.5" y1="334.3" x2="171.0" y2="334.3" stroke="#6cc04a" stroke-width="0.7"/>
<text x="171.5" y="335.5" font-size="3.4" text-anchor="start" fill="#333" font-weight="normal" >Enrichment profile</text>
<line x1="203.0" y1="334.3" x2="205.5" y2="334.3" stroke="#333" stroke-width="0.5"/>
<text x="206.0" y="335.5" font-size="3.4" text-anchor="start" fill="#333" font-weight="normal" >Hits</text>
<line x1="223.0" y1="334.3" x2="225.5" y2="334.3" stroke="#aaa" stroke-width="0.6"/>
<text x="227.0" y="335.5" font-size="3.4" text-anchor="start" fill="#333" font-weight="normal" >Ranking metric scores</text>
<text x="319.7" y="179.4" font-size="15.5" text-anchor="start" fill="#111" font-weight="bold" >D</text>
<line x1="380.5" y1="197.3" x2="380.5" y2="280.6" stroke="#111" stroke-width="0.9"/>
<line x1="380.5" y1="280.6" x2="461" y2="280.6" stroke="#111" stroke-width="0.9"/>
<line x1="376.5" y1="197.8" x2="380.5" y2="197.8" stroke="#111" stroke-width="0.9"/>
<text x="375.1" y="200.9" font-size="9.0" text-anchor="end" fill="#161616" font-weight="normal" stroke="#161616" stroke-width="0.14" >1,000,000</text>
<line x1="376.5" y1="225.3" x2="380.5" y2="225.3" stroke="#111" stroke-width="0.9"/>
<text x="375.1" y="228.4" font-size="9.0" text-anchor="end" fill="#161616" font-weight="normal" stroke="#161616" stroke-width="0.14" >100,000</text>
<line x1="376.5" y1="253.1" x2="380.5" y2="253.1" stroke="#111" stroke-width="0.9"/>
<text x="375.1" y="256.2" font-size="9.0" text-anchor="end" fill="#161616" font-weight="normal" stroke="#161616" stroke-width="0.14" >10,000</text>
<line x1="376.5" y1="280.6" x2="380.5" y2="280.6" stroke="#111" stroke-width="0.9"/>
<text x="375.1" y="283.70000000000005" font-size="9.0" text-anchor="end" fill="#161616" font-weight="normal" stroke="#161616" stroke-width="0.14" >1,000</text>
<text transform="translate(330.50,239.00) rotate(-90)" font-size="9.2" text-anchor="middle" fill="#161616" stroke="#161616" stroke-width="0.14" >Cell number</text>
<rect x="385.75" y="212.00" width="9.20" height="68.60" fill="#fff" stroke="#222" stroke-width="0.9"/>
<line x1="390.35" y1="280.6" x2="390.35" y2="284.6" stroke="#111" stroke-width="0.9"/>
<rect x="401.05" y="212.80" width="9.60" height="67.80" fill="#fff" stroke="#222" stroke-width="0.9"/>
<line x1="405.85" y1="280.6" x2="405.85" y2="284.6" stroke="#111" stroke-width="0.9"/>
<rect x="416.45" y="222.00" width="9.60" height="58.60" fill="#111" stroke="#222" stroke-width="0.9"/>
<line x1="421.25" y1="280.6" x2="421.25" y2="284.6" stroke="#111" stroke-width="0.9"/>
<rect x="432.05" y="246.40" width="10.10" height="34.20" fill="#888" stroke="#222" stroke-width="0.9"/>
<line x1="437.1" y1="280.6" x2="437.1" y2="284.6" stroke="#111" stroke-width="0.9"/>
<rect x="447.95" y="248.00" width="9.90" height="32.60" fill="#111" stroke="#222" stroke-width="0.9"/>
<line x1="452.9" y1="280.6" x2="452.9" y2="284.6" stroke="#111" stroke-width="0.9"/>
<line x1="390.30" y1="207.00" x2="390.30" y2="218.00" stroke="#111" stroke-width="0.8"/><line x1="388.10" y1="207.00" x2="392.50" y2="207.00" stroke="#111" stroke-width="0.8"/>
<circle cx="390.30" cy="206.30" r="1.80" fill="#222" stroke="#222" stroke-width="0.7"/>
<circle cx="390.30" cy="213.60" r="1.80" fill="#222" stroke="#222" stroke-width="0.7"/>
<circle cx="390.30" cy="216.00" r="1.80" fill="#222" stroke="#222" stroke-width="0.7"/>
<circle cx="390.30" cy="219.20" r="1.80" fill="#222" stroke="#222" stroke-width="0.7"/>
<line x1="405.80" y1="208.00" x2="405.80" y2="217.00" stroke="#111" stroke-width="0.8"/><line x1="403.60" y1="208.00" x2="408.00" y2="208.00" stroke="#111" stroke-width="0.8"/>
<rect x="404.10" y="204.60" width="3.40" height="3.40" fill="#222" stroke="#222" stroke-width="0.7"/>
<rect x="401.30" y="212.60" width="3.40" height="3.40" fill="#222" stroke="#222" stroke-width="0.7"/>
<rect x="407.30" y="212.60" width="3.40" height="3.40" fill="#222" stroke="#222" stroke-width="0.7"/>
<rect x="400.80" y="215.90" width="3.40" height="3.40" fill="#222" stroke="#222" stroke-width="0.7"/>
<line x1="421.20" y1="219.00" x2="421.20" y2="225.00" stroke="#fff" stroke-width="0.8"/><line x1="419.00" y1="219.00" x2="423.40" y2="219.00" stroke="#fff" stroke-width="0.8"/>
<polygon points="421.20,214.22 419.11,218.02 423.29,218.02" fill="#fff" stroke="#111" stroke-width="0.7"/>
<polygon points="421.20,223.70 420.10,225.70 422.30,225.70" fill="#fff" stroke="#fff" stroke-width="0.7"/>
<polygon points="421.20,228.00 420.10,230.00 422.30,230.00" fill="#fff" stroke="#fff" stroke-width="0.7"/>
<line x1="437.10" y1="241.00" x2="437.10" y2="252.00" stroke="#111" stroke-width="0.8"/><line x1="434.90" y1="241.00" x2="439.30" y2="241.00" stroke="#111" stroke-width="0.8"/>
<polygon points="437.10,242.48 435.01,238.68 439.19,238.68" fill="#888" stroke="#111" stroke-width="0.7"/>
<polygon points="437.10,249.78 435.01,245.98 439.19,245.98" fill="#888" stroke="#111" stroke-width="0.7"/>
<polygon points="437.10,253.78 435.01,249.98 439.19,249.98" fill="#888" stroke="#111" stroke-width="0.7"/>
<line x1="452.90" y1="244.00" x2="452.90" y2="253.00" stroke="#111" stroke-width="0.8"/><line x1="450.70" y1="244.00" x2="455.10" y2="244.00" stroke="#111" stroke-width="0.8"/>
<polygon points="452.90,238.96 454.60,241.00 452.90,243.04 451.20,241.00" fill="#fff" stroke="#111" stroke-width="0.7"/>
<polygon points="452.90,250.26 454.60,252.30 452.90,254.34 451.20,252.30" fill="#fff" stroke="#fff" stroke-width="0.7"/>
<polygon points="452.90,255.16 454.60,257.20 452.90,259.24 451.20,257.20" fill="#fff" stroke="#fff" stroke-width="0.7"/>
<circle cx="437.10" cy="232.40" r="1.25" fill="#2a2a2a"/>
<circle cx="452.90" cy="232.40" r="1.25" fill="#2a2a2a"/>
<text transform="translate(395.15,291.60) rotate(-45)" font-size="9.1" text-anchor="end" fill="#161616" stroke="#161616" stroke-width="0.14" >Unstimulated</text>
<text transform="translate(410.65,291.60) rotate(-45)" font-size="9.1" text-anchor="end" fill="#161616" stroke="#161616" stroke-width="0.14" >Ctrl VCM</text>
<text transform="translate(426.05,291.60) rotate(-45)" font-size="9.1" text-anchor="end" fill="#161616" stroke="#161616" stroke-width="0.14" >Ctrl ACM</text>
<text transform="translate(441.90,291.60) rotate(-45)" font-size="9.1" text-anchor="end" fill="#161616" stroke="#161616" stroke-width="0.14" >Ptdss1-KD ACM</text>
<text transform="translate(457.70,291.60) rotate(-45)" font-size="9.1" text-anchor="end" fill="#161616" stroke="#161616" stroke-width="0.14" >Ctrl ACM</text>
<text transform="translate(464.20,302.10) rotate(-45)" font-size="9.1" text-anchor="end" fill="#161616" stroke="#161616" stroke-width="0.14" >+ MERTK inhibitor</text>
<text x="0.9" y="368.4" font-size="15.5" text-anchor="start" fill="#111" font-weight="bold" >E</text>
<line x1="69.2" y1="398.8" x2="69.2" y2="482.2" stroke="#111" stroke-width="0.9"/>
<line x1="69.2" y1="482.2" x2="151" y2="482.2" stroke="#111" stroke-width="0.9"/>
<line x1="66.2" y1="398.8" x2="69.2" y2="398.8" stroke="#111" stroke-width="0.9"/>
<text x="64.8" y="402.0" font-size="9" text-anchor="end" fill="#161616" font-weight="normal" stroke="#161616" stroke-width="0.14" >150,000</text>
<line x1="66.2" y1="426.5" x2="69.2" y2="426.5" stroke="#111" stroke-width="0.9"/>
<text x="64.8" y="429.7" font-size="9" text-anchor="end" fill="#161616" font-weight="normal" stroke="#161616" stroke-width="0.14" >100,000</text>
<line x1="66.2" y1="454.2" x2="69.2" y2="454.2" stroke="#111" stroke-width="0.9"/>
<text x="64.8" y="457.4" font-size="9" text-anchor="end" fill="#161616" font-weight="normal" stroke="#161616" stroke-width="0.14" >50,000</text>
<text x="57.3" y="485.4" font-size="9" text-anchor="end" fill="#161616" font-weight="normal" stroke="#161616" stroke-width="0.14" >0</text>
<text transform="translate(9.20,435.60) rotate(-90)" font-size="9.1" text-anchor="middle" fill="#161616" stroke="#161616" stroke-width="0.14" >eFluor 670</text>
<text transform="translate(19.20,435.00) rotate(-90)" font-size="9.1" text-anchor="middle" fill="#161616" stroke="#161616" stroke-width="0.14" >(mean fluorescence</text>
<text transform="translate(29.70,435.00) rotate(-90)" font-size="9.1" text-anchor="middle" fill="#161616" stroke="#161616" stroke-width="0.14" >intensity)</text>
<rect x="74.85" y="467.60" width="9.50" height="14.60" fill="#fff" stroke="#222" stroke-width="0.9"/>
<line x1="79.6" y1="482.2" x2="79.6" y2="485.2" stroke="#111" stroke-width="0.9"/>
<rect x="91.15" y="466.00" width="8.70" height="16.20" fill="#fff" stroke="#222" stroke-width="0.9"/>
<line x1="95.5" y1="482.2" x2="95.5" y2="485.2" stroke="#111" stroke-width="0.9"/>
<rect x="105.95" y="452.80" width="9.60" height="29.40" fill="#111" stroke="#222" stroke-width="0.9"/>
<line x1="110.75" y1="482.2" x2="110.75" y2="485.2" stroke="#111" stroke-width="0.9"/>
<rect x="121.45" y="415.00" width="10.10" height="67.20" fill="#888" stroke="#222" stroke-width="0.9"/>
<line x1="126.5" y1="482.2" x2="126.5" y2="485.2" stroke="#111" stroke-width="0.9"/>
<rect x="137.15" y="408.00" width="10.40" height="74.20" fill="#111" stroke="#222" stroke-width="0.9"/>
<line x1="142.35" y1="482.2" x2="142.35" y2="485.2" stroke="#111" stroke-width="0.9"/>
<circle cx="76.50" cy="467.20" r="1.60" fill="#222" stroke="#222" stroke-width="0.7"/>
<circle cx="79.60" cy="467.20" r="1.60" fill="#222" stroke="#222" stroke-width="0.7"/>
<circle cx="82.50" cy="467.20" r="1.60" fill="#222" stroke="#222" stroke-width="0.7"/>
<rect x="91.00" y="464.10" width="3.00" height="3.00" fill="#222" stroke="#222" stroke-width="0.7"/>
<rect x="94.00" y="464.10" width="3.00" height="3.00" fill="#222" stroke="#222" stroke-width="0.7"/>
<rect x="97.00" y="464.10" width="3.00" height="3.00" fill="#222" stroke="#222" stroke-width="0.7"/>
<line x1="110.75" y1="450.00" x2="110.75" y2="455.00" stroke="#111" stroke-width="0.8"/><line x1="108.75" y1="450.00" x2="112.75" y2="450.00" stroke="#111" stroke-width="0.8"/>
<polygon points="110.75,447.58 108.99,450.78 112.51,450.78" fill="#fff" stroke="#111" stroke-width="0.7"/>
<polygon points="108.50,450.68 106.74,453.88 110.26,453.88" fill="#fff" stroke="#111" stroke-width="0.7"/>
<polygon points="113.00,450.68 111.24,453.88 114.76,453.88" fill="#fff" stroke="#111" stroke-width="0.7"/>
<line x1="126.50" y1="409.50" x2="126.50" y2="418.00" stroke="#111" stroke-width="0.8"/><line x1="124.50" y1="409.50" x2="128.50" y2="409.50" stroke="#111" stroke-width="0.8"/>
<polygon points="124.50,412.92 122.74,409.72 126.26,409.72" fill="#888" stroke="#111" stroke-width="0.7"/>
<polygon points="128.50,413.92 126.74,410.72 130.26,410.72" fill="#888" stroke="#111" stroke-width="0.7"/>
<polygon points="126.50,418.92 124.74,415.72 128.26,415.72" fill="#888" stroke="#111" stroke-width="0.7"/>
<line x1="142.30" y1="404.00" x2="142.30" y2="411.00" stroke="#111" stroke-width="0.8"/><line x1="140.30" y1="404.00" x2="144.30" y2="404.00" stroke="#111" stroke-width="0.8"/>
<polygon points="140.30,403.20 141.80,405.00 140.30,406.80 138.80,405.00" fill="#fff" stroke="#111" stroke-width="0.7"/>
<polygon points="144.30,404.20 145.80,406.00 144.30,407.80 142.80,406.00" fill="#fff" stroke="#111" stroke-width="0.7"/>
<polygon points="142.30,409.20 143.80,411.00 142.30,412.80 140.80,411.00" fill="#fff" stroke="#111" stroke-width="0.7"/>
<circle cx="108.95" cy="442.30" r="1.25" fill="#2a2a2a"/><circle cx="112.55" cy="442.30" r="1.25" fill="#2a2a2a"/>
<circle cx="122.90" cy="404.10" r="1.25" fill="#2a2a2a"/><circle cx="126.50" cy="404.10" r="1.25" fill="#2a2a2a"/><circle cx="130.10" cy="404.10" r="1.25" fill="#2a2a2a"/>
<circle cx="138.70" cy="397.10" r="1.25" fill="#2a2a2a"/><circle cx="142.30" cy="397.10" r="1.25" fill="#2a2a2a"/><circle cx="145.90" cy="397.10" r="1.25" fill="#2a2a2a"/>
<text transform="translate(84.40,493.70) rotate(-45)" font-size="9.1" text-anchor="end" fill="#161616" stroke="#161616" stroke-width="0.14" >Unstimulated</text>
<text transform="translate(100.30,493.70) rotate(-45)" font-size="9.1" text-anchor="end" fill="#161616" stroke="#161616" stroke-width="0.14" >Ctrl VCM</text>
<text transform="translate(115.55,493.70) rotate(-45)" font-size="9.1" text-anchor="end" fill="#161616" stroke="#161616" stroke-width="0.14" >Ctrl ACM</text>
<text transform="translate(131.30,493.70) rotate(-45)" font-size="9.1" text-anchor="end" fill="#161616" stroke="#161616" stroke-width="0.14" >Ptdss1-KD ACM</text>
<text transform="translate(147.15,493.70) rotate(-45)" font-size="9.1" text-anchor="end" fill="#161616" stroke="#161616" stroke-width="0.14" >Ctrl ACM</text>
<text transform="translate(153.60,504.20) rotate(-45)" font-size="9.1" text-anchor="end" fill="#161616" stroke="#161616" stroke-width="0.14" >+ MERTK inhibitor</text>
<text x="178.9" y="368.4" font-size="15.5" text-anchor="start" fill="#111" font-weight="bold" >F</text>
<line x1="219" y1="399.6" x2="219" y2="482.4" stroke="#111" stroke-width="1.0"/>
<line x1="215.4" y1="482.4" x2="343.4" y2="482.4" stroke="#111" stroke-width="1.0"/>
<line x1="215.4" y1="482.40" x2="219" y2="482.40" stroke="#111" stroke-width="0.9"/>
<text x="211.2" y="485.59999999999997" font-size="9" text-anchor="end" fill="#161616" font-weight="normal" stroke="#161616" stroke-width="0.14" >0</text>
<line x1="215.4" y1="465.84" x2="219" y2="465.84" stroke="#111" stroke-width="0.9"/>
<text x="213.3" y="469.03999999999996" font-size="9" text-anchor="end" fill="#161616" font-weight="normal" stroke="#161616" stroke-width="0.14" >20</text>
<line x1="215.4" y1="449.28" x2="219" y2="449.28" stroke="#111" stroke-width="0.9"/>
<text x="213.3" y="452.47999999999996" font-size="9" text-anchor="end" fill="#161616" font-weight="normal" stroke="#161616" stroke-width="0.14" >40</text>
<line x1="215.4" y1="432.72" x2="219" y2="432.72" stroke="#111" stroke-width="0.9"/>
<text x="213.3" y="435.92" font-size="9" text-anchor="end" fill="#161616" font-weight="normal" stroke="#161616" stroke-width="0.14" >60</text>
<line x1="215.4" y1="416.16" x2="219" y2="416.16" stroke="#111" stroke-width="0.9"/>
<text x="213.3" y="419.36" font-size="9" text-anchor="end" fill="#161616" font-weight="normal" stroke="#161616" stroke-width="0.14" >80</text>
<line x1="215.4" y1="399.60" x2="219" y2="399.60" stroke="#111" stroke-width="0.9"/>
<text x="213.3" y="402.8" font-size="9" text-anchor="end" fill="#161616" font-weight="normal" stroke="#161616" stroke-width="0.14" >100</text>
<line x1="239.2" y1="482.4" x2="239.2" y2="485.9" stroke="#111" stroke-width="0.9"/>
<line x1="281.5" y1="482.4" x2="281.5" y2="485.9" stroke="#111" stroke-width="0.9"/>
<line x1="323.5" y1="482.4" x2="323.5" y2="485.9" stroke="#111" stroke-width="0.9"/>
<text transform="translate(186.00,440.50) rotate(-90)" font-size="9" text-anchor="middle" fill="#161616" stroke="#161616" stroke-width="0.14" >Cells</text>
<text transform="translate(195.80,440.40) rotate(-90)" font-size="9" text-anchor="middle" fill="#161616" stroke="#161616" stroke-width="0.14" >(% of total cells)</text>
<rect x="221.55" y="402.91" width="4.60" height="79.49" fill="#fff" stroke="#222" stroke-width="1.1"/>
<circle cx="223.85" cy="402.91" r="2.30" fill="#111" stroke="#111" stroke-width="0.7"/>
<rect x="229.15" y="402.91" width="4.60" height="79.49" fill="#999" stroke="#333" stroke-width="1.1"/>
<circle cx="231.45" cy="402.91" r="2.30" fill="#111" stroke="#111" stroke-width="0.7"/>
<rect x="236.75" y="419.47" width="4.60" height="62.93" fill="#111" stroke="#111" stroke-width="1.1"/>
<polygon points="239.05,417.19 236.96,420.99 241.14,420.99" fill="#fff" stroke="#111" stroke-width="0.7"/>
<polygon points="239.05,419.93 237.18,423.33 240.92,423.33" fill="#fff" stroke="#111" stroke-width="0.7"/>
<rect x="244.35" y="445.14" width="4.60" height="37.26" fill="#d0d0d0" stroke="#555" stroke-width="1.1"/>
<polygon points="246.65,447.42 244.56,443.62 248.74,443.62" fill="#ccc" stroke="#111" stroke-width="0.7"/>
<polygon points="246.65,449.68 244.78,446.28 248.52,446.28" fill="#ccc" stroke="#111" stroke-width="0.7"/>
<rect x="251.95" y="451.76" width="4.60" height="30.64" fill="#555" stroke="#333" stroke-width="1.1"/>
<polygon points="254.25,449.48 256.15,451.76 254.25,454.04 252.35,451.76" fill="#fff" stroke="#111" stroke-width="0.7"/>
<polygon points="254.25,452.22 255.95,454.26 254.25,456.30 252.55,454.26" fill="#fff" stroke="#111" stroke-width="0.7"/>
<rect x="263.85" y="480.74" width="4.60" height="1.66" fill="#fff" stroke="#222" stroke-width="1.1"/>
<circle cx="266.15" cy="480.74" r="2.30" fill="#111" stroke="#111" stroke-width="0.7"/>
<rect x="271.45" y="480.33" width="4.60" height="2.07" fill="#999" stroke="#333" stroke-width="1.1"/>
<circle cx="273.75" cy="480.33" r="2.30" fill="#111" stroke="#111" stroke-width="0.7"/>
<rect x="279.05" y="472.46" width="4.60" height="9.94" fill="#111" stroke="#111" stroke-width="1.1"/>
<polygon points="281.35,470.18 279.26,473.98 283.44,473.98" fill="#fff" stroke="#111" stroke-width="0.7"/>
<polygon points="281.35,472.92 279.48,476.32 283.22,476.32" fill="#fff" stroke="#111" stroke-width="0.7"/>
<rect x="286.65" y="441.00" width="4.60" height="41.40" fill="#d0d0d0" stroke="#555" stroke-width="1.1"/>
<polygon points="288.95,443.28 286.86,439.48 291.04,439.48" fill="#ccc" stroke="#111" stroke-width="0.7"/>
<polygon points="288.95,445.54 287.08,442.14 290.82,442.14" fill="#ccc" stroke="#111" stroke-width="0.7"/>
<rect x="294.25" y="434.38" width="4.60" height="48.02" fill="#555" stroke="#333" stroke-width="1.1"/>
<polygon points="296.55,432.10 298.45,434.38 296.55,436.66 294.65,434.38" fill="#fff" stroke="#111" stroke-width="0.7"/>
<polygon points="296.55,434.84 298.25,436.88 296.55,438.92 294.85,436.88" fill="#fff" stroke="#111" stroke-width="0.7"/>
<rect x="306.05" y="481.16" width="4.60" height="1.24" fill="#fff" stroke="#222" stroke-width="1.1"/>
<circle cx="308.35" cy="481.16" r="2.30" fill="#111" stroke="#111" stroke-width="0.7"/>
<rect x="313.65" y="480.74" width="4.60" height="1.66" fill="#999" stroke="#333" stroke-width="1.1"/>
<circle cx="315.95" cy="480.74" r="2.30" fill="#111" stroke="#111" stroke-width="0.7"/>
<rect x="321.25" y="475.78" width="4.60" height="6.62" fill="#111" stroke="#111" stroke-width="1.1"/>
<polygon points="323.55,473.50 321.46,477.30 325.64,477.30" fill="#fff" stroke="#111" stroke-width="0.7"/>
<polygon points="323.55,476.24 321.68,479.64 325.42,479.64" fill="#fff" stroke="#111" stroke-width="0.7"/>
<rect x="328.85" y="474.12" width="4.60" height="8.28" fill="#d0d0d0" stroke="#555" stroke-width="1.1"/>
<polygon points="331.15,476.40 329.06,472.60 333.24,472.60" fill="#ccc" stroke="#111" stroke-width="0.7"/>
<polygon points="331.15,478.66 329.28,475.26 333.02,475.26" fill="#ccc" stroke="#111" stroke-width="0.7"/>
<rect x="336.45" y="474.12" width="4.60" height="8.28" fill="#555" stroke="#333" stroke-width="1.1"/>
<polygon points="338.75,471.84 340.65,474.12 338.75,476.40 336.85,474.12" fill="#fff" stroke="#111" stroke-width="0.7"/>
<polygon points="338.75,474.58 340.45,476.62 338.75,478.66 337.05,476.62" fill="#fff" stroke="#111" stroke-width="0.7"/>
<circle cx="237.40" cy="409.60" r="1.25" fill="#2a2a2a"/><circle cx="241.00" cy="409.60" r="1.25" fill="#2a2a2a"/>
<circle cx="243.20" cy="434.30" r="1.25" fill="#2a2a2a"/><circle cx="246.80" cy="434.30" r="1.25" fill="#2a2a2a"/><circle cx="250.40" cy="434.30" r="1.25" fill="#2a2a2a"/>
<circle cx="250.80" cy="442.10" r="1.25" fill="#2a2a2a"/><circle cx="254.40" cy="442.10" r="1.25" fill="#2a2a2a"/><circle cx="258.00" cy="442.10" r="1.25" fill="#2a2a2a"/>
<circle cx="279.70" cy="465.30" r="1.25" fill="#2a2a2a"/><circle cx="283.30" cy="465.30" r="1.25" fill="#2a2a2a"/>
<circle cx="285.50" cy="431.80" r="1.25" fill="#2a2a2a"/><circle cx="289.10" cy="431.80" r="1.25" fill="#2a2a2a"/><circle cx="292.70" cy="431.80" r="1.25" fill="#2a2a2a"/>
<circle cx="293.10" cy="425.80" r="1.25" fill="#2a2a2a"/><circle cx="296.70" cy="425.80" r="1.25" fill="#2a2a2a"/><circle cx="300.30" cy="425.80" r="1.25" fill="#2a2a2a"/>
<text transform="translate(243.70,493.90) rotate(-45)" font-size="9" text-anchor="end" fill="#161616" stroke="#161616" stroke-width="0.14" >Living</text>
<text transform="translate(286.00,493.90) rotate(-45)" font-size="9" text-anchor="end" fill="#161616" stroke="#161616" stroke-width="0.14" >Apoptotic</text>
<text transform="translate(328.00,493.90) rotate(-45)" font-size="9" text-anchor="end" fill="#161616" stroke="#161616" stroke-width="0.14" >Necrotic</text>
<rect x="215.79999999999998" y="363.90000000000003" width="3.9" height="3.9" fill="#fff" stroke="#151515" stroke-width="1.2"/>
<text x="221.89999999999998" y="369.1" font-size="9" text-anchor="start" fill="#161616" font-weight="normal" stroke="#161616" stroke-width="0.14" >Unstimulated</text>
<rect x="215.79999999999998" y="375.5" width="3.9" height="3.9" fill="#bbb" stroke="#151515" stroke-width="1.2"/>
<text x="221.89999999999998" y="380.7" font-size="9" text-anchor="start" fill="#161616" font-weight="normal" stroke="#161616" stroke-width="0.14" >Ctrl VCM</text>
<rect x="215.79999999999998" y="387.1" width="3.9" height="3.9" fill="#111" stroke="#151515" stroke-width="1.2"/>
<text x="221.89999999999998" y="392.3" font-size="9" text-anchor="start" fill="#161616" font-weight="normal" stroke="#161616" stroke-width="0.14" >Ctrl ACM</text>
<rect x="281.1" y="363.90000000000003" width="3.9" height="3.9" fill="#ddd" stroke="#151515" stroke-width="1.2"/>
<text x="288.5" y="369.1" font-size="9" text-anchor="start" fill="#161616" font-weight="normal" stroke="#161616" stroke-width="0.14" >Ptdss1-KD ACM</text>
<rect x="281.1" y="375.5" width="3.9" height="3.9" fill="#666" stroke="#151515" stroke-width="1.2"/>
<text x="288.5" y="380.7" font-size="9" text-anchor="start" fill="#161616" font-weight="normal" stroke="#161616" stroke-width="0.14" >Ctrl ACM</text>
<text x="289.4" y="393" font-size="9" text-anchor="start" fill="#161616" font-weight="normal" stroke="#161616" stroke-width="0.14" >+ MERTK inhibtor</text>
<text x="380.3" y="368.5" font-size="15.5" text-anchor="start" fill="#111" font-weight="bold" >G</text>
<line x1="429.7" y1="381" x2="429.7" y2="464.1" stroke="#111" stroke-width="0.9"/>
<line x1="429.7" y1="464.1" x2="485.7" y2="464.1" stroke="#111" stroke-width="0.9"/>
<line x1="426.7" y1="464.10" x2="429.7" y2="464.10" stroke="#111" stroke-width="0.9"/>
<text x="425.5" y="467.3" font-size="9" text-anchor="end" fill="#161616" font-weight="normal" stroke="#161616" stroke-width="0.14" >0</text>
<line x1="426.7" y1="436.40" x2="429.7" y2="436.40" stroke="#111" stroke-width="0.9"/>
<text x="425.5" y="439.6" font-size="9" text-anchor="end" fill="#161616" font-weight="normal" stroke="#161616" stroke-width="0.14" >10</text>
<line x1="426.7" y1="408.70" x2="429.7" y2="408.70" stroke="#111" stroke-width="0.9"/>
<text x="425.5" y="411.9" font-size="9" text-anchor="end" fill="#161616" font-weight="normal" stroke="#161616" stroke-width="0.14" >20</text>
<line x1="426.7" y1="381.00" x2="429.7" y2="381.00" stroke="#111" stroke-width="0.9"/>
<text x="425.5" y="384.2" font-size="9" text-anchor="end" fill="#161616" font-weight="normal" stroke="#161616" stroke-width="0.14" >30</text>
<g transform="translate(400.50,421.00) rotate(-90)"><text x="-33.62" y="0" font-size="9" fill="#161616" font-weight="normal" stroke="#161616" stroke-width="0.14" xml:space="preserve">Ki67</text><text x="-15.60" y="-3" font-size="5.5" fill="#161616" font-weight="normal" xml:space="preserve">+</text><text x="-12.39" y="0" font-size="9" fill="#161616" font-weight="normal" stroke="#161616" stroke-width="0.14" xml:space="preserve"> tumor cells</text></g>
<text transform="translate(409.80,421.00) rotate(-90)" font-size="9" text-anchor="middle" fill="#161616" stroke="#161616" stroke-width="0.14" >(% of total cells)</text>
<rect x="436.00" y="440.28" width="9.10" height="23.82" fill="#fff" stroke="#222" stroke-width="1.0"/>
<line x1="440.55" y1="464.1" x2="440.55" y2="467.70000000000005" stroke="#111" stroke-width="0.9"/>
<rect x="452.10" y="455.24" width="10.70" height="8.86" fill="#fff" stroke="#222" stroke-width="1.0"/>
<line x1="457.45000000000005" y1="464.1" x2="457.45000000000005" y2="467.70000000000005" stroke="#111" stroke-width="0.9"/>
<rect x="468.70" y="455.51" width="10.30" height="8.59" fill="#fff" stroke="#222" stroke-width="1.0"/>
<line x1="473.85" y1="464.1" x2="473.85" y2="467.70000000000005" stroke="#111" stroke-width="0.9"/>
<circle cx="440.13" cy="389.54" r="1.6" fill="#111"/>
<circle cx="440.56" cy="394.25" r="1.6" fill="#111"/>
<circle cx="440.32" cy="400.98" r="1.6" fill="#111"/>
<circle cx="440.65" cy="403.26" r="1.6" fill="#111"/>
<circle cx="440.68" cy="405.28" r="1.6" fill="#111"/>
<circle cx="439.89" cy="407.30" r="1.6" fill="#111"/>
<circle cx="439.82" cy="409.32" r="1.6" fill="#111"/>
<circle cx="440.97" cy="411.34" r="1.6" fill="#111"/>
<circle cx="440.16" cy="413.36" r="1.6" fill="#111"/>
<circle cx="440.13" cy="415.38" r="1.6" fill="#111"/>
<circle cx="441.19" cy="417.40" r="1.6" fill="#111"/>
<circle cx="440.46" cy="418.34" r="1.6" fill="#111"/>
<circle cx="440.97" cy="431.53" r="1.6" fill="#111"/>
<circle cx="440.47" cy="432.87" r="1.6" fill="#111"/>
<circle cx="440.69" cy="434.89" r="1.6" fill="#111"/>
<circle cx="440.01" cy="436.91" r="1.6" fill="#111"/>
<circle cx="440.69" cy="440.95" r="1.6" fill="#111"/>
<circle cx="441.02" cy="442.29" r="1.6" fill="#111"/>
<circle cx="440.53" cy="448.35" r="1.6" fill="#111"/>
<circle cx="440.84" cy="448.35" r="1.6" fill="#111"/>
<circle cx="441.94" cy="450.37" r="1.6" fill="#111"/>
<circle cx="436.84" cy="450.37" r="1.6" fill="#111"/>
<circle cx="442.67" cy="452.39" r="1.6" fill="#111"/>
<circle cx="441.27" cy="452.39" r="1.6" fill="#111"/>
<circle cx="438.83" cy="454.41" r="1.6" fill="#111"/>
<circle cx="436.56" cy="454.41" r="1.6" fill="#111"/>
<circle cx="443.57" cy="455.75" r="1.6" fill="#111"/>
<circle cx="440.27" cy="455.75" r="1.6" fill="#111"/>
<circle cx="442.34" cy="455.75" r="1.6" fill="#111"/>
<circle cx="443.68" cy="455.75" r="1.6" fill="#111"/>
<circle cx="442.30" cy="455.75" r="1.6" fill="#111"/>
<circle cx="444.04" cy="457.10" r="1.6" fill="#111"/>
<circle cx="439.62" cy="457.10" r="1.6" fill="#111"/>
<circle cx="443.03" cy="457.10" r="1.6" fill="#111"/>
<circle cx="440.03" cy="457.10" r="1.6" fill="#111"/>
<circle cx="444.16" cy="457.10" r="1.6" fill="#111"/>
<circle cx="443.68" cy="458.45" r="1.6" fill="#111"/>
<circle cx="437.12" cy="458.45" r="1.6" fill="#111"/>
<circle cx="437.44" cy="458.45" r="1.6" fill="#111"/>
<circle cx="438.12" cy="458.45" r="1.6" fill="#111"/>
<circle cx="444.41" cy="458.45" r="1.6" fill="#111"/>
<circle cx="439.96" cy="459.79" r="1.6" fill="#111"/>
<circle cx="441.56" cy="459.79" r="1.6" fill="#111"/>
<circle cx="438.83" cy="459.79" r="1.6" fill="#111"/>
<circle cx="440.56" cy="459.79" r="1.6" fill="#111"/>
<circle cx="439.54" cy="459.79" r="1.6" fill="#111"/>
<circle cx="439.25" cy="461.14" r="1.6" fill="#111"/>
<circle cx="441.21" cy="461.14" r="1.6" fill="#111"/>
<circle cx="441.21" cy="461.14" r="1.6" fill="#111"/>
<circle cx="443.90" cy="461.14" r="1.6" fill="#111"/>
<circle cx="442.03" cy="461.14" r="1.6" fill="#111"/>
<circle cx="444.10" cy="462.48" r="1.6" fill="#111"/>
<circle cx="443.49" cy="462.48" r="1.6" fill="#111"/>
<circle cx="444.62" cy="462.48" r="1.6" fill="#111"/>
<circle cx="441.94" cy="462.48" r="1.6" fill="#111"/>
<circle cx="437.67" cy="462.48" r="1.6" fill="#111"/>
<circle cx="443.53" cy="463.16" r="1.6" fill="#111"/>
<circle cx="444.40" cy="463.16" r="1.6" fill="#111"/>
<circle cx="443.90" cy="463.16" r="1.6" fill="#111"/>
<circle cx="441.08" cy="463.16" r="1.6" fill="#111"/>
<circle cx="442.30" cy="463.16" r="1.6" fill="#111"/>
<circle cx="457.00" cy="419.41" r="1.6" fill="#111"/>
<circle cx="457.86" cy="429.51" r="1.6" fill="#111"/>
<circle cx="457.50" cy="431.53" r="1.6" fill="#111"/>
<circle cx="457.10" cy="434.22" r="1.6" fill="#111"/>
<circle cx="456.79" cy="438.26" r="1.6" fill="#111"/>
<circle cx="457.90" cy="440.95" r="1.6" fill="#111"/>
<circle cx="458.09" cy="448.35" r="1.6" fill="#111"/>
<circle cx="456.82" cy="448.35" r="1.6" fill="#111"/>
<circle cx="459.93" cy="453.06" r="1.6" fill="#111"/>
<circle cx="456.65" cy="453.06" r="1.6" fill="#111"/>
<circle cx="454.47" cy="454.41" r="1.6" fill="#111"/>
<circle cx="455.67" cy="454.41" r="1.6" fill="#111"/>
<circle cx="459.66" cy="455.75" r="1.6" fill="#111"/>
<circle cx="460.53" cy="455.75" r="1.6" fill="#111"/>
<circle cx="453.57" cy="455.75" r="1.6" fill="#111"/>
<circle cx="458.36" cy="455.75" r="1.6" fill="#111"/>
<circle cx="453.58" cy="455.75" r="1.6" fill="#111"/>
<circle cx="459.23" cy="457.10" r="1.6" fill="#111"/>
<circle cx="455.98" cy="457.10" r="1.6" fill="#111"/>
<circle cx="460.60" cy="457.10" r="1.6" fill="#111"/>
<circle cx="461.44" cy="457.10" r="1.6" fill="#111"/>
<circle cx="457.45" cy="457.10" r="1.6" fill="#111"/>
<circle cx="461.59" cy="458.45" r="1.6" fill="#111"/>
<circle cx="455.80" cy="458.45" r="1.6" fill="#111"/>
<circle cx="453.85" cy="458.45" r="1.6" fill="#111"/>
<circle cx="458.24" cy="458.45" r="1.6" fill="#111"/>
<circle cx="453.46" cy="458.45" r="1.6" fill="#111"/>
<circle cx="454.86" cy="459.79" r="1.6" fill="#111"/>
<circle cx="456.63" cy="459.79" r="1.6" fill="#111"/>
<circle cx="458.33" cy="459.79" r="1.6" fill="#111"/>
<circle cx="454.51" cy="459.79" r="1.6" fill="#111"/>
<circle cx="453.56" cy="459.79" r="1.6" fill="#111"/>
<circle cx="460.49" cy="461.14" r="1.6" fill="#111"/>
<circle cx="455.84" cy="461.14" r="1.6" fill="#111"/>
<circle cx="461.25" cy="461.14" r="1.6" fill="#111"/>
<circle cx="460.73" cy="461.14" r="1.6" fill="#111"/>
<circle cx="456.37" cy="461.14" r="1.6" fill="#111"/>
<circle cx="457.07" cy="462.48" r="1.6" fill="#111"/>
<circle cx="457.57" cy="462.48" r="1.6" fill="#111"/>
<circle cx="458.61" cy="462.48" r="1.6" fill="#111"/>
<circle cx="458.20" cy="462.48" r="1.6" fill="#111"/>
<circle cx="457.90" cy="462.48" r="1.6" fill="#111"/>
<circle cx="458.41" cy="463.16" r="1.6" fill="#111"/>
<circle cx="461.10" cy="463.16" r="1.6" fill="#111"/>
<circle cx="457.46" cy="463.16" r="1.6" fill="#111"/>
<circle cx="456.82" cy="463.16" r="1.6" fill="#111"/>
<circle cx="459.25" cy="463.16" r="1.6" fill="#111"/>
<circle cx="473.43" cy="407.97" r="1.6" fill="#111"/>
<circle cx="473.52" cy="421.16" r="1.6" fill="#111"/>
<circle cx="474.47" cy="432.20" r="1.6" fill="#111"/>
<circle cx="473.83" cy="434.22" r="1.6" fill="#111"/>
<circle cx="473.87" cy="436.91" r="1.6" fill="#111"/>
<circle cx="469.70" cy="451.04" r="1.6" fill="#111"/>
<circle cx="473.09" cy="451.04" r="1.6" fill="#111"/>
<circle cx="474.47" cy="453.06" r="1.6" fill="#111"/>
<circle cx="469.77" cy="453.06" r="1.6" fill="#111"/>
<circle cx="474.77" cy="454.41" r="1.6" fill="#111"/>
<circle cx="474.91" cy="454.41" r="1.6" fill="#111"/>
<circle cx="470.10" cy="455.75" r="1.6" fill="#111"/>
<circle cx="474.87" cy="455.75" r="1.6" fill="#111"/>
<circle cx="473.52" cy="455.75" r="1.6" fill="#111"/>
<circle cx="475.31" cy="455.75" r="1.6" fill="#111"/>
<circle cx="472.56" cy="455.75" r="1.6" fill="#111"/>
<circle cx="475.54" cy="457.10" r="1.6" fill="#111"/>
<circle cx="475.80" cy="457.10" r="1.6" fill="#111"/>
<circle cx="469.79" cy="457.10" r="1.6" fill="#111"/>
<circle cx="470.11" cy="457.10" r="1.6" fill="#111"/>
<circle cx="475.28" cy="457.10" r="1.6" fill="#111"/>
<circle cx="477.69" cy="458.45" r="1.6" fill="#111"/>
<circle cx="471.71" cy="458.45" r="1.6" fill="#111"/>
<circle cx="473.43" cy="458.45" r="1.6" fill="#111"/>
<circle cx="474.58" cy="458.45" r="1.6" fill="#111"/>
<circle cx="472.29" cy="458.45" r="1.6" fill="#111"/>
<circle cx="472.66" cy="459.79" r="1.6" fill="#111"/>
<circle cx="472.23" cy="459.79" r="1.6" fill="#111"/>
<circle cx="472.70" cy="459.79" r="1.6" fill="#111"/>
<circle cx="474.60" cy="459.79" r="1.6" fill="#111"/>
<circle cx="472.12" cy="459.79" r="1.6" fill="#111"/>
<circle cx="472.77" cy="461.14" r="1.6" fill="#111"/>
<circle cx="476.09" cy="461.14" r="1.6" fill="#111"/>
<circle cx="469.83" cy="461.14" r="1.6" fill="#111"/>
<circle cx="474.38" cy="461.14" r="1.6" fill="#111"/>
<circle cx="475.78" cy="461.14" r="1.6" fill="#111"/>
<circle cx="472.20" cy="462.48" r="1.6" fill="#111"/>
<circle cx="471.47" cy="462.48" r="1.6" fill="#111"/>
<circle cx="476.35" cy="462.48" r="1.6" fill="#111"/>
<circle cx="471.61" cy="462.48" r="1.6" fill="#111"/>
<circle cx="471.17" cy="462.48" r="1.6" fill="#111"/>
<circle cx="473.26" cy="463.16" r="1.6" fill="#111"/>
<circle cx="475.46" cy="463.16" r="1.6" fill="#111"/>
<circle cx="470.46" cy="463.16" r="1.6" fill="#111"/>
<circle cx="472.30" cy="463.16" r="1.6" fill="#111"/>
<circle cx="472.40" cy="463.16" r="1.6" fill="#111"/>
<line x1="440.50" y1="436.50" x2="440.50" y2="444.00" stroke="#111" stroke-width="0.9"/><line x1="438.20" y1="436.50" x2="442.80" y2="436.50" stroke="#111" stroke-width="0.9"/>
<circle cx="453.80" cy="407.30" r="1.25" fill="#2a2a2a"/><circle cx="457.40" cy="407.30" r="1.25" fill="#2a2a2a"/><circle cx="461.00" cy="407.30" r="1.25" fill="#2a2a2a"/>
<circle cx="470.20" cy="398.00" r="1.25" fill="#2a2a2a"/><circle cx="473.80" cy="398.00" r="1.25" fill="#2a2a2a"/><circle cx="477.40" cy="398.00" r="1.25" fill="#2a2a2a"/>
<text transform="translate(446.70,474.70) rotate(-45)" font-size="9" text-anchor="end" fill="#161616" stroke="#161616" stroke-width="0.14" >WT Ctrl</text>
<text transform="translate(463.00,475.20) rotate(-45)" font-size="9" text-anchor="end" fill="#161616" stroke="#161616" stroke-width="0.14" >WT Ptdss1-KD</text>
<g transform="translate(479.60,475.20) rotate(-45)"><text x="-48.67" y="0" font-size="9" fill="#161616" font-weight="normal" stroke="#161616" stroke-width="0.14" xml:space="preserve">Mertk</text><text x="-26.17" y="-3.5" font-size="4.5" fill="#161616" font-weight="normal" xml:space="preserve">ΔMφ</text><text x="-16.50" y="0" font-size="9" fill="#161616" font-weight="normal" stroke="#161616" stroke-width="0.14" xml:space="preserve"> Ctrl</text></g>
<text x="375.9" y="555.2" font-size="15.5" text-anchor="start" fill="#111" font-weight="bold" >I</text>
<line x1="424" y1="557.1" x2="424" y2="639.8" stroke="#111" stroke-width="0.9"/>
<line x1="424" y1="639.8" x2="507" y2="639.8" stroke="#111" stroke-width="0.9"/>
<line x1="421" y1="639.80" x2="424" y2="639.80" stroke="#111" stroke-width="0.9"/>
<text x="420.5" y="643.0" font-size="9" text-anchor="end" fill="#161616" font-weight="normal" stroke="#161616" stroke-width="0.14" >0.0</text>
<line x1="421" y1="612.23" x2="424" y2="612.23" stroke="#111" stroke-width="0.9"/>
<text x="420.5" y="615.4333333333334" font-size="9" text-anchor="end" fill="#161616" font-weight="normal" stroke="#161616" stroke-width="0.14" >0.1</text>
<line x1="421" y1="584.67" x2="424" y2="584.67" stroke="#111" stroke-width="0.9"/>
<text x="420.5" y="587.8666666666667" font-size="9" text-anchor="end" fill="#161616" font-weight="normal" stroke="#161616" stroke-width="0.14" >0.2</text>
<line x1="421" y1="557.10" x2="424" y2="557.10" stroke="#111" stroke-width="0.9"/>
<text x="420.5" y="560.3000000000001" font-size="9" text-anchor="end" fill="#161616" font-weight="normal" stroke="#161616" stroke-width="0.14" >0.3</text>
<g transform="translate(392.30,597.80) rotate(-90)"><text x="-47.81" y="0" font-size="9.3" fill="#161616" font-weight="normal" font-style="italic" stroke="#161616" stroke-width="0.14" xml:space="preserve">Ki67</text><text x="-29.20" y="0" font-size="9.3" fill="#161616" font-weight="normal" stroke="#161616" stroke-width="0.14" xml:space="preserve"> mRNA expression</text></g>
<g transform="translate(401.80,598.10) rotate(-90)"><text x="-32.05" y="0" font-size="9.3" fill="#161616" font-weight="normal" stroke="#161616" stroke-width="0.14" xml:space="preserve">(rel. to </text><text x="-3.11" y="0" font-size="9.3" fill="#161616" font-weight="normal" font-style="italic" stroke="#161616" stroke-width="0.14" xml:space="preserve">Rps27a</text><text x="28.95" y="0" font-size="9.3" fill="#161616" font-weight="normal" stroke="#161616" stroke-width="0.14" xml:space="preserve">)</text></g>
<rect x="428.45" y="608.30" width="8.60" height="31.50" fill="#fff" stroke="#222" stroke-width="0.9"/>
<line x1="432.75" y1="639.8" x2="432.75" y2="642.8" stroke="#111" stroke-width="0.9"/>
<rect x="441.45" y="598.80" width="8.50" height="41.00" fill="#fff" stroke="#222" stroke-width="0.9"/>
<line x1="445.7" y1="639.8" x2="445.7" y2="642.8" stroke="#111" stroke-width="0.9"/>
<rect x="454.35" y="598.80" width="9.10" height="41.00" fill="#fff" stroke="#222" stroke-width="0.9"/>
<line x1="458.9" y1="639.8" x2="458.9" y2="642.8" stroke="#111" stroke-width="0.9"/>
<rect x="467.85" y="575.20" width="9.00" height="64.60" fill="#111" stroke="#222" stroke-width="0.9"/>
<line x1="472.35" y1="639.8" x2="472.35" y2="642.8" stroke="#111" stroke-width="0.9"/>
<rect x="480.45" y="596.20" width="8.50" height="43.60" fill="#888" stroke="#222" stroke-width="0.9"/>
<line x1="484.7" y1="639.8" x2="484.7" y2="642.8" stroke="#111" stroke-width="0.9"/>
<rect x="493.95" y="598.80" width="8.50" height="41.00" fill="#111" stroke="#222" stroke-width="0.9"/>
<line x1="498.2" y1="639.8" x2="498.2" y2="642.8" stroke="#111" stroke-width="0.9"/>
<polygon points="430.00,605.24 428.02,608.84 431.98,608.84" fill="#111" stroke="#111" stroke-width="0.7"/>
<polygon points="432.70,605.24 430.72,608.84 434.68,608.84" fill="#111" stroke="#111" stroke-width="0.7"/>
<polygon points="435.40,605.24 433.42,608.84 437.38,608.84" fill="#111" stroke="#111" stroke-width="0.7"/>
<circle cx="443.50" cy="597.30" r="1.80" fill="#111" stroke="#111" stroke-width="0.7"/>
<circle cx="446.00" cy="598.50" r="1.80" fill="#111" stroke="#111" stroke-width="0.7"/>
<circle cx="448.00" cy="597.30" r="1.80" fill="#111" stroke="#111" stroke-width="0.7"/>
<circle cx="445.50" cy="601.30" r="1.80" fill="#111" stroke="#111" stroke-width="0.7"/>
<rect x="454.50" y="596.80" width="3.00" height="3.00" fill="#111" stroke="#111" stroke-width="0.7"/>
<rect x="457.50" y="596.80" width="3.00" height="3.00" fill="#111" stroke="#111" stroke-width="0.7"/>
<rect x="460.50" y="596.80" width="3.00" height="3.00" fill="#111" stroke="#111" stroke-width="0.7"/>
<line x1="472.30" y1="572.00" x2="472.30" y2="579.00" stroke="#fff" stroke-width="0.9"/><line x1="470.10" y1="572.00" x2="474.50" y2="572.00" stroke="#fff" stroke-width="0.9"/>
<circle cx="472.30" cy="571.00" r="1.50" fill="#fff" stroke="#111" stroke-width="0.7"/>
<circle cx="472.30" cy="576.00" r="1.50" fill="#fff" stroke="#111" stroke-width="0.7"/>
<circle cx="472.30" cy="581.00" r="1.50" fill="#fff" stroke="#111" stroke-width="0.7"/>
<polygon points="482.50,596.54 480.63,593.14 484.37,593.14" fill="#888" stroke="#111" stroke-width="0.7"/>
<polygon points="487.00,596.54 485.13,593.14 488.87,593.14" fill="#888" stroke="#111" stroke-width="0.7"/>
<polygon points="484.70,601.04 482.83,597.64 486.57,597.64" fill="#888" stroke="#111" stroke-width="0.7"/>
<circle cx="495.70" cy="598.00" r="1.50" fill="#fff" stroke="#111" stroke-width="0.7"/>
<circle cx="498.20" cy="595.80" r="1.50" fill="#fff" stroke="#111" stroke-width="0.7"/>
<circle cx="500.60" cy="598.00" r="1.50" fill="#fff" stroke="#111" stroke-width="0.7"/>
<circle cx="468.70" cy="561.80" r="1.25" fill="#2a2a2a"/><circle cx="472.30" cy="561.80" r="1.25" fill="#2a2a2a"/><circle cx="475.90" cy="561.80" r="1.25" fill="#2a2a2a"/>
<text x="473" y="654" font-size="9" text-anchor="middle" fill="#161616" font-weight="normal" stroke="#161616" stroke-width="0.14" >Macrophage CM</text>
<line x1="439.3" y1="654.9" x2="506.8" y2="654.9" stroke="#222" stroke-width="0.8"/>
<text transform="translate(434.80,652.20) rotate(-45)" font-size="9" text-anchor="end" fill="#161616" stroke="#161616" stroke-width="0.14" >Ctrl PyMT cells</text>
<text transform="translate(450.50,663.30) rotate(-45)" font-size="9" text-anchor="end" fill="#161616" stroke="#161616" stroke-width="0.14" >Unstimulated</text>
<text transform="translate(464.50,664.30) rotate(-45)" font-size="9" text-anchor="end" fill="#161616" stroke="#161616" stroke-width="0.14" >Ctrl VCM</text>
<text transform="translate(476.50,664.30) rotate(-45)" font-size="9" text-anchor="end" fill="#161616" stroke="#161616" stroke-width="0.14" >Ctrl ACM</text>
<text transform="translate(489.80,665.00) rotate(-45)" font-size="9" text-anchor="end" fill="#161616" stroke="#161616" stroke-width="0.14" >Ptdss1-KD ACM</text>
<text transform="translate(502.50,665.00) rotate(-45)" font-size="9" text-anchor="end" fill="#161616" stroke="#161616" stroke-width="0.14" >Ctrl ACM</text>
<text transform="translate(510.20,671.00) rotate(-45)" font-size="9" text-anchor="end" fill="#161616" stroke="#161616" stroke-width="0.14" >+ MERTK inhibitor</text>
<defs><filter id="blur05"><feGaussianBlur stdDeviation="0.4"/></filter><filter id="blur1"><feGaussianBlur stdDeviation="1"/></filter><filter id="blur2"><feGaussianBlur stdDeviation="2"/></filter><filter id="blur3"><feGaussianBlur stdDeviation="4"/></filter>
<filter id="tex1" x="-5%" y="-5%" width="110%" height="110%" color-interpolation-filters="sRGB"><feTurbulence type="fractalNoise" baseFrequency="0.85" numOctaves="2" seed="3" result="n"/><feColorMatrix in="n" type="matrix" values="1.8 0 0 0 -0.4  1.8 0 0 0 -0.4  1.8 0 0 0 -0.4  0 0 0 0 1" result="g"/><feComposite in="SourceGraphic" in2="g" operator="arithmetic" k1="1.0" k2="0.5" k3="0" k4="0"/></filter>
<filter id="tex2" x="-5%" y="-5%" width="110%" height="110%" color-interpolation-filters="sRGB"><feTurbulence type="fractalNoise" baseFrequency="0.85" numOctaves="2" seed="5" result="n"/><feColorMatrix in="n" type="matrix" values="1.8 0 0 0 -0.4  1.8 0 0 0 -0.4  1.8 0 0 0 -0.4  0 0 0 0 1" result="g"/><feComposite in="SourceGraphic" in2="g" operator="arithmetic" k1="1.0" k2="0.5" k3="0" k4="0"/></filter>
<filter id="tex3" x="-5%" y="-5%" width="110%" height="110%" color-interpolation-filters="sRGB"><feTurbulence type="fractalNoise" baseFrequency="0.85" numOctaves="2" seed="9" result="n"/><feColorMatrix in="n" type="matrix" values="1.8 0 0 0 -0.4  1.8 0 0 0 -0.4  1.8 0 0 0 -0.4  0 0 0 0 1" result="g"/><feComposite in="SourceGraphic" in2="g" operator="arithmetic" k1="1.0" k2="0.5" k3="0" k4="0"/></filter>
</defs>
<text x="0.1" y="566" font-size="15.5" text-anchor="start" fill="#111" font-weight="bold" >H</text>
<clipPath id="clip1"><rect x="9.4" y="575.8" width="114.6" height="81.6"/></clipPath>
<g clip-path="url(#clip1)">
<rect x="9.4" y="575.8" width="114.6" height="81.6" fill="#060507"/>
<polygon points="46.0,572.8 127.0,572.8 127.0,660.4 58.0,660.4 54.0,630.0 50.0,600.0" fill="#221830" opacity="1" filter="url(#blur1)"/>
<clipPath id="sc1"><polygon points="46.0,572.8 127.0,572.8 127.0,660.4 58.0,660.4 54.0,630.0 50.0,600.0"/></clipPath><filter id="sf1" x="0" y="0" width="1" height="1" color-interpolation-filters="sRGB"><feTurbulence type="fractalNoise" baseFrequency="0.900" numOctaves="2" seed="3"/><feColorMatrix type="matrix" values="0 0 0 0 0.322  0 0 0 0 0.243  0 0 0 0 0.424  7 0 0 0 -3.500"/><feGaussianBlur stdDeviation="0.5"/></filter><rect x="46.0" y="572.8" width="81.0" height="87.6" filter="url(#sf1)" clip-path="url(#sc1)" opacity="1"/>
<ellipse cx="44" cy="592" rx="4" ry="3" fill="#0c0814" opacity="0.8" filter="url(#blur05)"/>
<ellipse cx="58" cy="601" rx="3" ry="2.5" fill="#0c0814" opacity="0.8" filter="url(#blur05)"/>
<ellipse cx="70" cy="588" rx="3" ry="2" fill="#0c0814" opacity="0.8" filter="url(#blur05)"/>
<ellipse cx="92" cy="592" rx="3" ry="2.5" fill="#0c0814" opacity="0.8" filter="url(#blur05)"/>
<ellipse cx="80" cy="620" rx="4" ry="3" fill="#0c0814" opacity="0.8" filter="url(#blur05)"/>
<ellipse cx="100" cy="640" rx="3" ry="2" fill="#0c0814" opacity="0.8" filter="url(#blur05)"/>
<ellipse cx="66" cy="634" rx="3" ry="2.5" fill="#0c0814" opacity="0.8" filter="url(#blur05)"/>
<ellipse cx="112" cy="610" rx="3" ry="2" fill="#0c0814" opacity="0.8" filter="url(#blur05)"/>
<clipPath id="sc2"><polygon points="85.0,572.8 127.0,572.8 127.0,660.4 95.0,660.4"/></clipPath><filter id="sf2" x="0" y="0" width="1" height="1" color-interpolation-filters="sRGB"><feTurbulence type="fractalNoise" baseFrequency="0.250" numOctaves="2" seed="21"/><feColorMatrix type="matrix" values="0 0 0 0 0.078  0 0 0 0 0.055  0 0 0 0 0.118  7 0 0 0 -3.933"/><feGaussianBlur stdDeviation="1.0"/></filter><rect x="85.0" y="572.8" width="42.0" height="87.6" filter="url(#sf2)" clip-path="url(#sc2)" opacity="0.6"/>
<polygon points="32.0,572.8 52.0,572.8 56.0,600.0 62.0,630.0 66.0,660.4 48.0,660.4 42.0,630.0 38.0,600.0" fill="#2e2434" opacity="0.9" filter="url(#blur2)"/>
<clipPath id="sc3"><polygon points="32.0,572.8 52.0,572.8 56.0,600.0 62.0,630.0 66.0,660.4 48.0,660.4 42.0,630.0 38.0,600.0"/></clipPath><filter id="sf3" x="0" y="0" width="1" height="1" color-interpolation-filters="sRGB"><feTurbulence type="fractalNoise" baseFrequency="0.900" numOctaves="2" seed="4"/><feColorMatrix type="matrix" values="0 0 0 0 0.647  0 0 0 0 0.549  0 0 0 0 0.627  7 0 0 0 -3.709"/><feGaussianBlur stdDeviation="0.5"/></filter><rect x="32.0" y="572.8" width="34.0" height="87.6" filter="url(#sf3)" clip-path="url(#sc3)" opacity="0.85"/>
<polygon points="14.0,572.8 36.0,572.8 44.0,600.0 50.0,620.0 56.0,640.0 60.0,660.4 36.0,660.4 33.0,640.0 27.0,620.0 18.0,600.0" fill="#16140a" opacity="1" filter="url(#blur1)"/>
<clipPath id="sc4"><polygon points="14.0,572.8 36.0,572.8 44.0,600.0 50.0,620.0 56.0,640.0 60.0,660.4 36.0,660.4 33.0,640.0 27.0,620.0 18.0,600.0"/></clipPath><filter id="sf4" x="0" y="0" width="1" height="1" color-interpolation-filters="sRGB"><feTurbulence type="fractalNoise" baseFrequency="0.800" numOctaves="2" seed="5"/><feColorMatrix type="matrix" values="0 0 0 0 0.529  0 0 0 0 0.490  0 0 0 0 0.243  7 0 0 0 -3.933"/><feGaussianBlur stdDeviation="0.5"/></filter><rect x="14.0" y="572.8" width="46.0" height="87.6" filter="url(#sf4)" clip-path="url(#sc4)" opacity="1"/>
<clipPath id="sc5"><polygon points="77.0,648.4 92.0,648.4 92.0,660.4 77.0,660.4"/></clipPath><filter id="sf5" x="0" y="0" width="1" height="1" color-interpolation-filters="sRGB"><feTurbulence type="fractalNoise" baseFrequency="0.700" numOctaves="2" seed="6"/><feColorMatrix type="matrix" values="0 0 0 0 0.784  0 0 0 0 0.157  0 0 0 0 0.157  7 0 0 0 -4.559"/><feGaussianBlur stdDeviation="0.5"/></filter><rect x="77.0" y="648.4" width="15.0" height="12.0" filter="url(#sf5)" clip-path="url(#sc5)" opacity="0.5"/>
</g>
<text x="121.5" y="586.0999999999999" font-size="9.1" text-anchor="end" fill="#fff" font-weight="bold" >WT Ctrl</text>
<rect x="11.600000000000001" y="654.6" width="5.8" height="1.3" fill="#eee"/>
<clipPath id="clip2"><rect x="127.8" y="576.1" width="114.2" height="80.9"/></clipPath>
<g clip-path="url(#clip2)">
<rect x="127.8" y="576.1" width="114.2" height="80.9" fill="#141126"/>
<clipPath id="sc6"><polygon points="124.8,573.1 245.0,573.1 245.0,660.0 124.8,660.0"/></clipPath><filter id="sf6" x="0" y="0" width="1" height="1" color-interpolation-filters="sRGB"><feTurbulence type="fractalNoise" baseFrequency="0.900" numOctaves="2" seed="7"/><feColorMatrix type="matrix" values="0 0 0 0 0.196  0 0 0 0 0.176  0 0 0 0 0.333  7 0 0 0 -3.500"/><feGaussianBlur stdDeviation="0.5"/></filter><rect x="124.8" y="573.1" width="120.2" height="86.9" filter="url(#sf6)" clip-path="url(#sc6)" opacity="0.9"/>
<polygon points="132.0,573.1 152.0,573.1 162.0,600.0 178.0,625.0 200.0,645.0 215.0,660.0 190.0,660.0 160.0,635.0 145.0,610.0 135.0,590.0" fill="#201c38" opacity="0.9" filter="url(#blur2)"/>
<clipPath id="sc7"><polygon points="132.0,573.1 152.0,573.1 162.0,600.0 178.0,625.0 200.0,645.0 215.0,660.0 190.0,660.0 160.0,635.0 145.0,610.0 135.0,590.0"/></clipPath><filter id="sf7" x="0" y="0" width="1" height="1" color-interpolation-filters="sRGB"><feTurbulence type="fractalNoise" baseFrequency="0.900" numOctaves="2" seed="8"/><feColorMatrix type="matrix" values="0 0 0 0 0.314  0 0 0 0 0.290  0 0 0 0 0.439  7 0 0 0 -3.604"/><feGaussianBlur stdDeviation="0.5"/></filter><rect x="132.0" y="573.1" width="83.0" height="86.9" filter="url(#sf7)" clip-path="url(#sc7)" opacity="0.6"/>
<polygon points="124.8,573.1 137.0,573.1 141.0,590.0 152.0,605.0 162.0,625.0 178.0,645.0 198.0,660.0 166.0,660.0 150.0,640.0 140.0,622.0 133.0,606.0 124.8,600.0" fill="#1e180a" opacity="1" filter="url(#blur1)"/>
<clipPath id="sc8"><polygon points="124.8,573.1 137.0,573.1 141.0,590.0 152.0,605.0 162.0,625.0 178.0,645.0 198.0,660.0 166.0,660.0 150.0,640.0 140.0,622.0 133.0,606.0 124.8,600.0"/></clipPath><filter id="sf8" x="0" y="0" width="1" height="1" color-interpolation-filters="sRGB"><feTurbulence type="fractalNoise" baseFrequency="0.850" numOctaves="2" seed="9"/><feColorMatrix type="matrix" values="0 0 0 0 0.588  0 0 0 0 0.478  0 0 0 0 0.227  7 0 0 0 -3.709"/><feGaussianBlur stdDeviation="0.5"/></filter><rect x="124.8" y="573.1" width="73.2" height="86.9" filter="url(#sf8)" clip-path="url(#sc8)" opacity="0.9"/>
<polygon points="124.8,603.0 133.0,606.0 140.0,622.0 150.0,640.0 168.0,660.0 124.8,660.0" fill="#040404" opacity="1" filter="url(#blur1)"/>
</g>
<text x="239.5" y="586.4" font-size="9.1" text-anchor="end" fill="#fff" font-weight="bold" >WT Ptdss1-KD</text>
<rect x="130.0" y="654.2" width="5.8" height="1.3" fill="#eee"/>
<clipPath id="clip3"><rect x="245.9" y="575.8" width="114.5" height="81.5"/></clipPath>
<g clip-path="url(#clip3)">
<rect x="245.9" y="575.8" width="114.5" height="81.5" fill="#141120"/>
<clipPath id="sc9"><polygon points="242.9,572.8 363.4,572.8 363.4,660.3 242.9,660.3"/></clipPath><filter id="sf9" x="0" y="0" width="1" height="1" color-interpolation-filters="sRGB"><feTurbulence type="fractalNoise" baseFrequency="0.900" numOctaves="2" seed="10"/><feColorMatrix type="matrix" values="0 0 0 0 0.204  0 0 0 0 0.188  0 0 0 0 0.306  7 0 0 0 -3.500"/><feGaussianBlur stdDeviation="0.5"/></filter><rect x="242.9" y="572.8" width="120.5" height="87.5" filter="url(#sf9)" clip-path="url(#sc9)" opacity="0.9"/>
<polygon points="259.0,572.8 276.0,572.8 285.0,620.0 293.0,660.3 270.0,660.3 263.0,620.0" fill="#2c2842" opacity="0.95" filter="url(#blur2)"/>
<clipPath id="sc10"><polygon points="259.0,572.8 276.0,572.8 285.0,620.0 293.0,660.3 270.0,660.3 263.0,620.0"/></clipPath><filter id="sf10" x="0" y="0" width="1" height="1" color-interpolation-filters="sRGB"><feTurbulence type="fractalNoise" baseFrequency="0.900" numOctaves="2" seed="11"/><feColorMatrix type="matrix" values="0 0 0 0 0.549  0 0 0 0 0.529  0 0 0 0 0.647  7 0 0 0 -3.500"/><feGaussianBlur stdDeviation="0.5"/></filter><rect x="259.0" y="572.8" width="34.0" height="87.5" filter="url(#sf10)" clip-path="url(#sc10)" opacity="0.85"/>
<polygon points="242.9,572.8 261.0,572.8 263.0,620.0 270.0,660.3 242.9,660.3" fill="#0e0e08" opacity="1" filter="url(#blur1)"/>
<clipPath id="sc11"><polygon points="242.9,572.8 261.0,572.8 262.0,610.0 242.9,610.0"/></clipPath><filter id="sf11" x="0" y="0" width="1" height="1" color-interpolation-filters="sRGB"><feTurbulence type="fractalNoise" baseFrequency="0.450" numOctaves="2" seed="12"/><feColorMatrix type="matrix" values="0 0 0 0 0.373  0 0 0 0 0.392  0 0 0 0 0.216  7 0 0 0 -3.818"/><feGaussianBlur stdDeviation="0.5"/></filter><rect x="242.9" y="572.8" width="19.1" height="37.2" filter="url(#sf11)" clip-path="url(#sc11)" opacity="0.7"/>
<clipPath id="sc12"><polygon points="242.9,605.0 262.0,610.0 266.0,630.0 272.0,660.3 242.9,660.3"/></clipPath><filter id="sf12" x="0" y="0" width="1" height="1" color-interpolation-filters="sRGB"><feTurbulence type="fractalNoise" baseFrequency="0.500" numOctaves="2" seed="13"/><feColorMatrix type="matrix" values="0 0 0 0 0.471  0 0 0 0 0.502  0 0 0 0 0.196  7 0 0 0 -3.818"/><feGaussianBlur stdDeviation="0.5"/></filter><rect x="242.9" y="605.0" width="29.1" height="55.3" filter="url(#sf12)" clip-path="url(#sc12)" opacity="0.7"/>
<polyline points="246,612 250,616 256,617 260,615" fill="none" stroke="#a8b040" stroke-width="1.0" opacity="0.75" filter="url(#blur05)"/>
<polyline points="246,628 252,632 258,640 262,650 265,657" fill="none" stroke="#a8b040" stroke-width="1.0" opacity="0.75" filter="url(#blur05)"/>
<polyline points="248,640 252,645 255,652 258,657" fill="none" stroke="#a8b040" stroke-width="1.0" opacity="0.75" filter="url(#blur05)"/>
<polyline points="250,622 255,626 259,633" fill="none" stroke="#a8b040" stroke-width="1.0" opacity="0.75" filter="url(#blur05)"/>
<polyline points="246,648 249,652 250,657" fill="none" stroke="#a8b040" stroke-width="1.0" opacity="0.75" filter="url(#blur05)"/>
<polyline points="253,598 258,600 261,604" fill="none" stroke="#a8b040" stroke-width="1.0" opacity="0.75" filter="url(#blur05)"/>
<polyline points="247,590 251,592" fill="none" stroke="#a8b040" stroke-width="1.0" opacity="0.75" filter="url(#blur05)"/>
<polyline points="256,636 262,642 268,652" fill="none" stroke="#a8b040" stroke-width="1.0" opacity="0.75" filter="url(#blur05)"/>
<polyline points="246,618 249,624 252,630" fill="none" stroke="#a8b040" stroke-width="1.0" opacity="0.75" filter="url(#blur05)"/>
</g>
<text x="357.9" y="586.0" font-size="9.1" font-weight="bold" text-anchor="end" fill="#fff">Mertk<tspan font-size="4.5" dy="-3.5">ΔMφ</tspan><tspan dy="3.5"> Ctrl</tspan></text>
<rect x="248.1" y="654.5" width="5.8" height="1.3" fill="#eee"/>
<text x="21.8" y="655.3" font-size="7.1" font-weight="bold"><tspan fill="#4a58b0">Pan-CK, </tspan><tspan fill="#e8e040">Vim, </tspan><tspan fill="#e03030">Ki67, </tspan><tspan fill="#f4f4f4">DAPI</tspan></text></svg></body></html>
